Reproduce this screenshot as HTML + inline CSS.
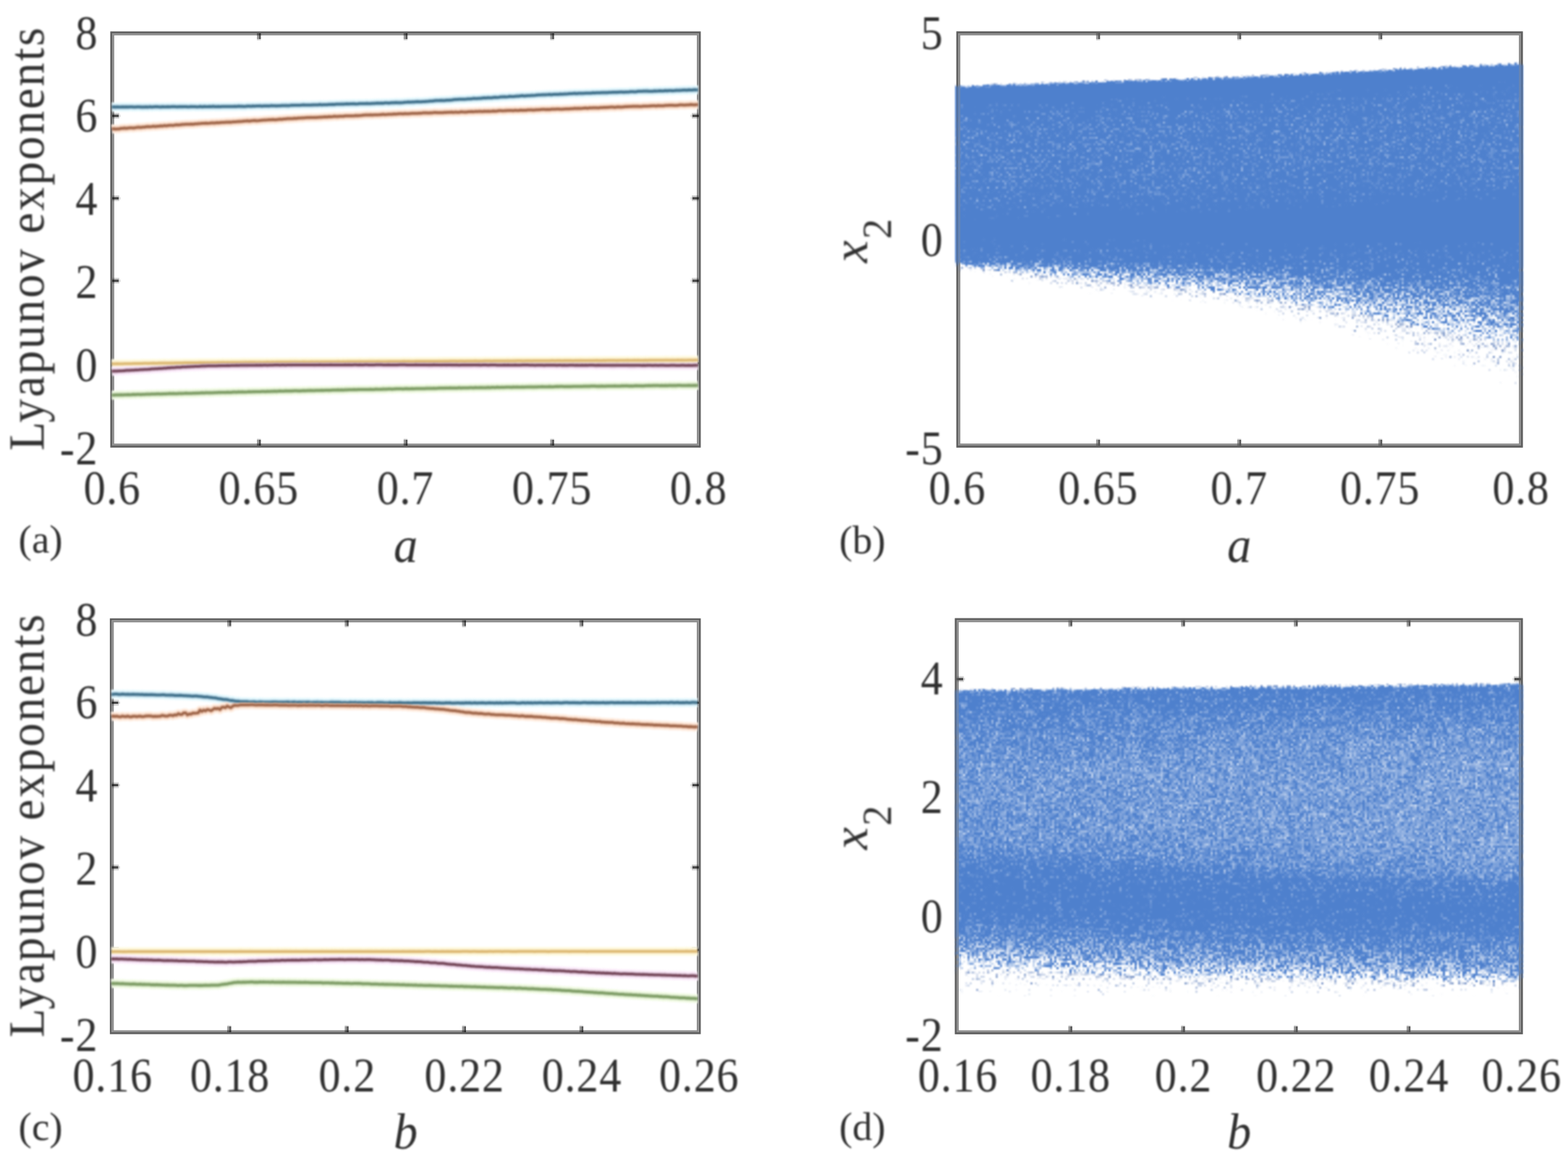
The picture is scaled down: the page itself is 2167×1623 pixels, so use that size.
<!DOCTYPE html>
<html lang="en"><head><meta charset="utf-8"><title>Lyapunov exponents and bifurcation diagrams</title>
<style>html,body{margin:0;padding:0;background:#fff}svg{display:block}text{font-family:"Liberation Serif","DejaVu Serif",serif;fill:#303030}</style>
</head><body>
<svg width="2167" height="1623" viewBox="0 0 2167 1623">
<defs>
<filter id="dith" filterUnits="userSpaceOnUse" x="1310" y="60" width="807" height="522" color-interpolation-filters="sRGB">
<feTurbulence type="fractalNoise" baseFrequency="0.7131 0.5519" numOctaves="3" seed="11" result="t"/>
<feFlood x="1311" y="61" width="1" height="1" flood-color="#000" result="dot"/>
<feOffset in="dot" dx="0" dy="0" x="1310" y="60" width="3" height="3" result="cell"/>
<feTile in="cell" result="grid"/>
<feComposite in="t" in2="grid" operator="in" result="s"/>
<feMorphology in="s" operator="dilate" radius="1" result="p"/>
<feComposite in="SourceGraphic" in2="p" operator="arithmetic" k1="0" k2="4.4" k3="4.0" k4="-3.800" result="a"/>
<feColorMatrix in="a" type="matrix" values="0 0 0 0 0.306  0 0 0 0 0.502  0 0 0 0 0.804  0 0 0 1 0"/>
</filter>
<filter id="diths" filterUnits="userSpaceOnUse" x="1310" y="60" width="807" height="522" color-interpolation-filters="sRGB">
<feTurbulence type="fractalNoise" baseFrequency="0.7131 0.5519" numOctaves="3" seed="11" result="t"/>
<feFlood x="1311" y="61" width="1" height="1" flood-color="#000" result="dot"/>
<feOffset in="dot" dx="0" dy="0" x="1310" y="60" width="3" height="3" result="cell"/>
<feTile in="cell" result="grid"/>
<feComposite in="t" in2="grid" operator="in" result="s"/>
<feMorphology in="s" operator="dilate" radius="1" result="p"/>
<feComposite in="SourceGraphic" in2="p" operator="arithmetic" k1="0" k2="1.8" k3="1.35" k4="-0.775" result="a"/>
<feComponentTransfer in="SourceGraphic" result="m"><feFuncA type="linear" slope="255"/></feComponentTransfer>
<feComposite in="a" in2="m" operator="in" result="a"/>
<feColorMatrix in="a" type="matrix" values="0 0 0 0 0.306  0 0 0 0 0.502  0 0 0 0 0.804  0 0 0 1 0"/>
</filter>
<filter id="ditht" filterUnits="userSpaceOnUse" x="1310" y="60" width="807" height="522" color-interpolation-filters="sRGB">
<feTurbulence type="fractalNoise" baseFrequency="0.7131 0.5519" numOctaves="3" seed="11" result="t"/>
<feFlood x="1311" y="61" width="1" height="1" flood-color="#000" result="dot"/>
<feOffset in="dot" dx="0" dy="0" x="1310" y="60" width="3" height="3" result="cell"/>
<feTile in="cell" result="grid"/>
<feComposite in="t" in2="grid" operator="in" result="s"/>
<feMorphology in="s" operator="dilate" radius="1" result="p"/>
<feComposite in="SourceGraphic" in2="p" operator="arithmetic" k1="0" k2="4.4" k3="4.0" k4="-3.800" result="a"/>
<feColorMatrix in="a" type="matrix" values="0 0 0 0 0.36  0 0 0 0 0.49  0 0 0 0 0.73  0 0 0 0.74 0"/>
</filter>
<filter id="dith2" filterUnits="userSpaceOnUse" x="1310" y="920" width="807" height="501" color-interpolation-filters="sRGB">
<feTurbulence type="fractalNoise" baseFrequency="0.7131 0.5519" numOctaves="3" seed="23" result="t"/>
<feFlood x="1311" y="921" width="1" height="1" flood-color="#000" result="dot"/>
<feOffset in="dot" dx="0" dy="0" x="1310" y="920" width="3" height="3" result="cell"/>
<feTile in="cell" result="grid"/>
<feComposite in="t" in2="grid" operator="in" result="s"/>
<feMorphology in="s" operator="dilate" radius="1" result="p"/>
<feComposite in="SourceGraphic" in2="p" operator="arithmetic" k1="0" k2="4.4" k3="4.0" k4="-3.800" result="a"/>
<feColorMatrix in="a" type="matrix" values="0 0 0 0 0.306  0 0 0 0 0.502  0 0 0 0 0.804  0 0 0 1 0"/>
</filter>
<filter id="dith2s" filterUnits="userSpaceOnUse" x="1310" y="920" width="807" height="501" color-interpolation-filters="sRGB">
<feTurbulence type="fractalNoise" baseFrequency="0.7131 0.5519" numOctaves="3" seed="23" result="t"/>
<feFlood x="1311" y="921" width="1" height="1" flood-color="#000" result="dot"/>
<feOffset in="dot" dx="0" dy="0" x="1310" y="920" width="3" height="3" result="cell"/>
<feTile in="cell" result="grid"/>
<feComposite in="t" in2="grid" operator="in" result="s"/>
<feMorphology in="s" operator="dilate" radius="1" result="p"/>
<feComposite in="SourceGraphic" in2="p" operator="arithmetic" k1="0" k2="1.8" k3="1.35" k4="-0.775" result="a"/>
<feComponentTransfer in="SourceGraphic" result="m"><feFuncA type="linear" slope="255"/></feComponentTransfer>
<feComposite in="a" in2="m" operator="in" result="a"/>
<feColorMatrix in="a" type="matrix" values="0 0 0 0 0.306  0 0 0 0 0.502  0 0 0 0 0.804  0 0 0 1 0"/>
</filter>
<filter id="dith2t" filterUnits="userSpaceOnUse" x="1310" y="920" width="807" height="501" color-interpolation-filters="sRGB">
<feTurbulence type="fractalNoise" baseFrequency="0.7131 0.5519" numOctaves="3" seed="23" result="t"/>
<feFlood x="1311" y="921" width="1" height="1" flood-color="#000" result="dot"/>
<feOffset in="dot" dx="0" dy="0" x="1310" y="920" width="3" height="3" result="cell"/>
<feTile in="cell" result="grid"/>
<feComposite in="t" in2="grid" operator="in" result="s"/>
<feMorphology in="s" operator="dilate" radius="1" result="p"/>
<feComposite in="SourceGraphic" in2="p" operator="arithmetic" k1="0" k2="4.4" k3="4.0" k4="-3.800" result="a"/>
<feColorMatrix in="a" type="matrix" values="0 0 0 0 0.36  0 0 0 0 0.49  0 0 0 0 0.73  0 0 0 0.74 0"/>
</filter>
<filter id="tsoft" filterUnits="userSpaceOnUse" x="0" y="0" width="2167" height="1623" color-interpolation-filters="sRGB"><feGaussianBlur stdDeviation="1.05"/></filter>
<filter id="sblur" filterUnits="userSpaceOnUse" x="1305" y="40" width="815" height="1400" color-interpolation-filters="sRGB"><feGaussianBlur stdDeviation="0.8"/></filter>
<filter id="lsoft" filterUnits="userSpaceOnUse" x="140" y="100" width="840" height="1300" color-interpolation-filters="sRGB"><feGaussianBlur stdDeviation="0.9"/></filter>
</defs>
<rect width="2167" height="1623" fill="#fff"/>
<g>
<g fill="none" stroke-width="2.75"><rect x="153.8" y="44.8" width="813.3" height="572.6" stroke="#5f5f5f"/><rect x="156.5" y="47.5" width="807.9" height="567.1" stroke="#8e8e8e"/></g>
<g fill="#000"><path d="M355.1 46.1h2.7v8h-2.7zM355.1 608h2.7v8h-2.7zM557.8 46.1h2.7v8h-2.7zM557.8 608h2.7v8h-2.7zM760.4 46.1h2.7v8h-2.7zM760.4 608h2.7v8h-2.7z" fill-opacity=".4"/><path d="M357.8 46.1h2.7v8h-2.7zM357.8 608h2.7v8h-2.7zM560.5 46.1h2.7v8h-2.7zM560.5 608h2.7v8h-2.7zM763.1 46.1h2.7v8h-2.7zM763.1 608h2.7v8h-2.7zM155.2 158.5h8.8v3.2h-8.8zM957 158.5h8.8v3.2h-8.8zM155.2 272.5h8.8v3.2h-8.8zM957 272.5h8.8v3.2h-8.8zM155.2 386.5h8.8v3.2h-8.8zM957 386.5h8.8v3.2h-8.8zM155.2 500.4h8.8v3.2h-8.8zM957 500.4h8.8v3.2h-8.8z" fill-opacity=".66"/><path d="M355.1 54.1h5.4v1.6h-5.4zM355.1 606.4h5.4v1.6h-5.4zM557.8 54.1h5.4v1.6h-5.4zM557.8 606.4h5.4v1.6h-5.4zM760.4 54.1h5.4v1.6h-5.4zM760.4 606.4h5.4v1.6h-5.4zM155.2 156.1h9.6v8h-9.6zM164 158.5h2.4v3.2h-2.4zM956.1 156.1h9.6v8h-9.6zM954.5 158.5h2.4v3.2h-2.4zM155.2 270.1h9.6v8h-9.6zM164 272.5h2.4v3.2h-2.4zM956.1 270.1h9.6v8h-9.6zM954.5 272.5h2.4v3.2h-2.4zM155.2 384.1h9.6v8h-9.6zM164 386.5h2.4v3.2h-2.4zM956.1 384.1h9.6v8h-9.6zM954.5 386.5h2.4v3.2h-2.4zM155.2 498h9.6v8h-9.6zM164 500.4h2.4v3.2h-2.4zM956.1 498h9.6v8h-9.6zM954.5 500.4h2.4v3.2h-2.4z" fill-opacity=".18"/></g>
<g fill="none" stroke-linejoin="round" filter="url(#lsoft)">
<defs>
<path id="lablue" d="M154.6 147.9L157.1 147.8L159.6 148.1L162.1 147.8L164.6 148.0L167.1 147.9L169.6 147.7L172.1 147.9L174.6 147.7L177.1 147.9L179.6 147.7L182.1 147.7L184.6 147.9L187.1 148.0L189.6 147.7L192.1 147.7L194.6 147.9L197.1 148.1L199.6 147.9L202.1 147.8L204.6 148.1L207.1 147.6L209.6 148.0L212.1 147.7L214.6 147.6L217.1 147.6L219.6 147.7L222.1 147.9L224.6 147.6L227.1 147.8L229.6 147.8L232.1 147.6L234.6 147.7L237.1 147.5L239.6 147.4L242.1 147.5L244.6 147.7L247.1 147.6L249.6 147.5L252.1 147.6L254.6 147.5L257.1 147.5L259.6 147.7L262.1 147.6L264.6 147.4L267.1 147.5L269.6 147.5L272.1 147.7L274.6 147.6L277.1 147.3L279.6 147.7L282.1 147.2L284.6 147.4L287.1 147.5L289.6 147.2L292.1 147.4L294.6 147.1L297.1 147.4L299.6 147.4L302.1 147.3L304.6 147.5L307.1 147.2L309.6 147.3L312.1 147.3L314.6 147.2L317.1 147.2L319.6 147.3L322.1 147.3L324.6 147.1L327.1 147.2L329.6 146.8L332.1 147.1L334.6 147.1L337.1 147.2L339.6 147.1L342.1 146.8L344.6 146.8L347.1 146.9L349.6 146.6L352.1 146.7L354.6 146.5L357.1 146.5L359.6 146.4L362.1 146.7L364.6 146.4L367.1 146.4L369.6 146.4L372.1 146.6L374.6 146.1L377.1 146.3L379.6 146.3L382.1 146.4L384.6 146.3L387.1 146.3L389.6 145.9L392.1 146.0L394.6 145.9L397.1 146.1L399.6 146.1L402.1 145.6L404.6 145.6L407.1 145.5L409.6 145.5L412.1 145.5L414.6 145.5L417.1 145.3L419.6 145.1L422.1 145.3L424.6 145.2L427.1 145.2L429.6 145.3L432.1 145.1L434.6 145.0L437.1 145.0L439.6 145.0L442.1 144.6L444.6 144.9L447.1 144.8L449.6 144.8L452.1 144.7L454.6 144.4L457.1 144.4L459.6 144.2L462.1 144.4L464.6 144.0L467.1 144.0L469.6 144.0L472.1 143.9L474.6 143.9L477.1 143.7L479.6 143.6L482.1 143.7L484.6 143.6L487.1 143.6L489.6 143.4L492.1 143.8L494.6 143.6L497.1 143.3L499.6 143.3L502.1 143.3L504.6 143.2L507.1 143.0L509.6 143.3L512 143.3L514.5 143.0L517 142.9L519.5 142.7L522 142.6L524.5 142.7L527 142.5L529.5 142.7L532 142.3L534.5 142.2L537 142.6L539.5 142.3L542 142.0L544.5 142.1L547 141.8L549.5 141.9L552 142.1L554.5 141.9L557 141.7L559.5 141.4L562 141.3L564.5 141.1L567 141.3L569.5 141.1L572 141.1L574.5 140.8L577 140.6L579.5 140.8L582 140.7L584.5 140.5L587 140.4L589.5 140.2L592 140.1L594.5 139.7L597 139.7L599.5 139.4L602 139.1L604.5 139.0L607 139.0L609.5 138.8L612 138.9L614.5 138.9L617 138.5L619.5 138.6L622 138.4L624.5 138.3L627 137.8L629.5 137.6L632 137.5L634.5 137.3L637 137.2L639.5 137.2L642 137.2L644.5 137.0L647 136.7L649.5 136.7L652 136.6L654.5 136.1L657 136.2L659.5 136.2L662 136.0L664.5 135.9L667 135.6L669.5 135.3L672 135.5L674.5 135.1L677 135.2L679.5 135.2L682 134.7L684.5 134.6L687 134.7L689.5 134.5L692 134.1L694.5 133.9L697 133.8L699.5 134.0L702 133.8L704.5 133.3L707 133.5L709.5 133.5L712 133.2L714.5 132.9L717 132.9L719.5 132.5L722 132.3L724.5 132.7L727 132.4L729.5 132.2L732 132.3L734.5 131.9L737 132.0L739.5 131.8L742 131.4L744.5 131.3L747 131.2L749.5 131.1L752 131.1L754.5 130.9L757 130.8L759.5 130.6L762 130.9L764.5 130.5L767 130.4L769.5 130.4L772 130.4L774.5 130.1L777 130.3L779.5 129.9L782 129.9L784.5 129.8L787 129.4L789.5 129.5L792 129.3L794.5 129.1L797 129.4L799.5 129.0L802 129.1L804.5 129.1L807 129.0L809.5 128.8L812 128.8L814.5 128.7L817 128.7L819.5 128.3L822 128.5L824.5 128.2L827 128.2L829.5 128.3L832 128.1L834.5 128.0L837 128.1L839.5 128.1L842 127.7L844.5 127.8L847 127.6L849.5 127.5L852 127.6L854.5 127.4L857 127.3L859.5 127.2L862 127.4L864.5 127.2L867 127.2L869.5 127.1L872 126.7L874.5 126.8L877 126.9L879.5 126.8L882 126.3L884.5 126.3L887 126.3L889.5 126.1L892 126.1L894.5 125.9L897 126.2L899.5 126.2L902 126.2L904.5 125.7L907 125.9L909.5 125.8L912 125.5L914.5 125.8L917 125.8L919.5 125.3L922 125.6L924.5 125.3L927 125.3L929.5 125.4L932 125.3L934.5 124.9L937 125.0L939.5 124.9L942 124.8L944.5 124.6L947 124.6L949.5 124.8L952 124.3L954.5 124.5L957 124.4L959.5 124.1L962 124.2L964.5 124.3"/>
<path id="laorange" d="M154.6 178.5L157.1 178.1L159.6 178.5L162.1 178.2L164.6 178.2L167.1 177.5L169.6 177.4L172.1 177.1L174.6 177.4L177.1 177.0L179.6 176.7L182.1 176.7L184.6 176.9L187.1 176.6L189.6 176.1L192.1 175.9L194.6 176.2L197.1 175.8L199.6 175.8L202.1 175.2L204.6 175.1L207.1 175.3L209.6 175.0L212.1 174.6L214.6 174.9L217.1 174.6L219.6 174.5L222.1 174.0L224.6 174.3L227.1 173.6L229.6 174.0L232.1 173.6L234.6 173.3L237.1 173.3L239.6 173.4L242.1 172.8L244.6 172.6L247.1 172.7L249.6 172.4L252.1 172.1L254.6 172.0L257.1 171.8L259.6 171.8L262.1 171.7L264.6 171.5L267.1 171.7L269.6 171.2L272.1 171.2L274.6 170.9L277.1 170.8L279.6 170.5L282.1 170.5L284.6 170.2L287.1 170.5L289.6 170.3L292.1 169.9L294.6 169.9L297.1 170.1L299.6 169.5L302.1 169.7L304.6 169.4L307.1 169.3L309.6 169.3L312.1 168.9L314.6 168.9L317.1 168.8L319.6 168.9L322.1 168.4L324.6 168.5L327.1 168.3L329.6 168.1L332.1 167.9L334.6 167.7L337.1 167.4L339.6 167.3L342.1 167.1L344.6 167.4L347.1 167.0L349.6 166.8L352.1 166.6L354.6 166.9L357.1 166.8L359.6 166.5L362.1 166.2L364.6 166.0L367.1 165.9L369.6 165.8L372.1 165.5L374.6 165.6L377.1 165.3L379.6 165.6L382.1 165.4L384.6 165.1L387.1 164.7L389.6 165.0L392.1 164.5L394.6 164.4L397.1 164.0L399.6 164.1L402.1 164.0L404.6 163.9L407.1 163.6L409.6 163.7L412.1 163.2L414.6 163.2L417.1 163.0L419.6 163.1L422.1 162.7L424.6 162.6L427.1 162.6L429.6 162.4L432.1 162.5L434.6 162.4L437.1 162.4L439.6 162.2L442.1 162.1L444.6 162.1L447.1 161.7L449.6 161.5L452.1 161.8L454.6 161.2L457.1 161.4L459.6 161.2L462.1 160.8L464.6 161.1L467.1 161.1L469.6 160.8L472.1 160.8L474.6 160.7L477.1 160.2L479.6 160.3L482.1 160.2L484.6 160.3L487.1 160.2L489.6 160.1L492.1 159.8L494.6 159.9L497.1 159.7L499.6 159.6L502.1 159.2L504.6 159.0L507.1 158.9L509.6 159.0L512 158.7L514.5 159.1L517 158.8L519.5 158.8L522 158.7L524.5 158.6L527 158.4L529.5 158.0L532 158.4L534.5 158.3L537 158.0L539.5 158.0L542 157.9L544.5 157.5L547 157.8L549.5 157.4L552 157.2L554.5 157.3L557 157.4L559.5 157.0L562 157.3L564.5 157.3L567 157.0L569.5 156.8L572 156.8L574.5 156.8L577 156.8L579.5 156.6L582 156.6L584.5 156.1L587 156.1L589.5 156.1L592 156.3L594.5 156.0L597 156.1L599.5 155.6L602 155.6L604.5 155.7L607 155.8L609.5 155.8L612 155.7L614.5 155.4L617 155.4L619.5 155.3L622 155.3L624.5 155.0L627 155.4L629.5 154.9L632 155.3L634.5 155.2L637 154.6L639.5 154.8L642 154.9L644.5 154.9L647 154.5L649.5 154.4L652 154.3L654.5 154.6L657 154.1L659.5 154.3L662 153.9L664.5 154.1L667 154.3L669.5 153.7L672 154.0L674.5 153.8L677 153.9L679.5 153.7L682 153.4L684.5 153.7L687 153.4L689.5 153.0L692 153.0L694.5 153.2L697 153.1L699.5 152.9L702 152.8L704.5 152.8L707 152.7L709.5 153.0L712 152.4L714.5 152.8L717 152.7L719.5 152.2L722 152.6L724.5 152.4L727 152.5L729.5 152.0L732 152.0L734.5 151.9L737 152.2L739.5 151.9L742 151.7L744.5 151.7L747 151.5L749.5 151.3L752 151.2L754.5 151.6L757 151.2L759.5 151.5L762 151.0L764.5 150.9L767 151.0L769.5 150.7L772 150.7L774.5 151.0L777 150.9L779.5 150.7L782 150.5L784.5 150.6L787 150.6L789.5 150.2L792 150.3L794.5 149.8L797 150.1L799.5 149.8L802 149.9L804.5 149.8L807 149.5L809.5 149.2L812 149.7L814.5 149.1L817 149.2L819.5 149.1L822 149.0L824.5 149.1L827 149.2L829.5 148.7L832 148.8L834.5 148.5L837 148.6L839.5 148.4L842 148.2L844.5 148.1L847 148.1L849.5 148.4L852 148.1L854.5 147.8L857 148.1L859.5 148.1L862 147.7L864.5 147.4L867 147.4L869.5 147.2L872 147.3L874.5 147.1L877 147.1L879.5 147.0L882 147.1L884.5 147.2L887 147.1L889.5 146.8L892 146.7L894.5 146.7L897 146.6L899.5 146.4L902 146.2L904.5 146.3L907 146.6L909.5 146.0L912 146.2L914.5 146.2L917 146.2L919.5 145.8L922 145.7L924.5 145.6L927 145.6L929.5 145.6L932 145.8L934.5 145.7L937 145.6L939.5 145.0L942 145.0L944.5 145.3L947 145.3L949.5 145.0L952 145.0L954.5 144.6L957 144.7L959.5 145.0L962 144.8L964.5 144.8"/>
<path id="layellow" d="M154.6 503.1L157.1 502.9L159.6 502.9L162.1 502.8L164.6 502.9L167.1 502.9L169.6 502.9L172.1 502.8L174.6 502.8L177.1 502.8L179.6 502.7L182.1 502.7L184.6 502.5L187.1 502.6L189.6 502.5L192.1 502.6L194.6 502.5L197.1 502.4L199.6 502.3L202.1 502.3L204.6 502.4L207.1 502.3L209.6 502.2L212.1 502.1L214.6 502.2L217.1 502.2L219.6 502.1L222.1 502.0L224.6 502.1L227.1 501.9L229.6 502.0L232.1 502.0L234.6 502.0L237.1 501.9L239.6 501.9L242.1 501.8L244.6 501.7L247.1 501.7L249.6 501.8L252.1 501.7L254.6 501.6L257.1 501.5L259.6 501.6L262.1 501.6L264.6 501.5L267.1 501.5L269.6 501.5L272.1 501.6L274.6 501.4L277.1 501.3L279.6 501.4L282.1 501.3L284.6 501.4L287.1 501.3L289.6 501.4L292.1 501.3L294.6 501.2L297.1 501.2L299.6 501.3L302.1 501.1L304.6 501.2L307.1 501.1L309.6 501.1L312.1 501.2L314.6 501.0L317.1 501.2L319.6 501.0L322.1 501.0L324.6 501.0L327.1 501.0L329.6 501.0L332.1 501.0L334.6 500.9L337.1 500.9L339.6 500.8L342.1 501.0L344.6 500.8L347.1 500.8L349.6 500.7L352.1 500.8L354.6 500.9L357.1 500.9L359.6 500.8L362.1 500.9L364.6 500.8L367.1 500.7L369.6 500.6L372.1 500.8L374.6 500.7L377.1 500.6L379.6 500.7L382.1 500.6L384.6 500.6L387.1 500.6L389.6 500.5L392.1 500.5L394.6 500.5L397.1 500.5L399.6 500.6L402.1 500.4L404.6 500.6L407.1 500.4L409.6 500.4L412.1 500.5L414.6 500.5L417.1 500.4L419.6 500.3L422.1 500.4L424.6 500.4L427.1 500.5L429.6 500.3L432.1 500.3L434.6 500.4L437.1 500.2L439.6 500.3L442.1 500.4L444.6 500.3L447.1 500.2L449.6 500.2L452.1 500.2L454.6 500.3L457.1 500.2L459.6 500.3L462.1 500.3L464.6 500.2L467.1 500.1L469.6 500.3L472.1 500.2L474.6 500.1L477.1 500.2L479.6 500.1L482.1 500.1L484.6 500.0L487.1 500.1L489.6 500.1L492.1 500.1L494.6 500.1L497.1 499.9L499.6 500.0L502.1 500.0L504.6 500.1L507.1 500.1L509.6 499.9L512 499.9L514.5 499.9L517 499.9L519.5 500.0L522 499.8L524.5 499.9L527 499.9L529.5 499.9L532 499.9L534.5 499.9L537 499.8L539.5 499.8L542 499.8L544.5 499.8L547 499.7L549.5 499.7L552 499.8L554.5 499.7L557 499.6L559.5 499.6L562 499.7L564.5 499.6L567 499.8L569.5 499.7L572 499.7L574.5 499.6L577 499.5L579.5 499.5L582 499.6L584.5 499.6L587 499.5L589.5 499.5L592 499.5L594.5 499.5L597 499.5L599.5 499.5L602 499.5L604.5 499.5L607 499.4L609.5 499.5L612 499.4L614.5 499.4L617 499.4L619.5 499.4L622 499.3L624.5 499.3L627 499.3L629.5 499.3L632 499.4L634.5 499.3L637 499.3L639.5 499.3L642 499.4L644.5 499.3L647 499.2L649.5 499.3L652 499.3L654.5 499.3L657 499.1L659.5 499.2L662 499.2L664.5 499.2L667 499.2L669.5 499.0L672 499.1L674.5 499.0L677 499.0L679.5 499.2L682 499.1L684.5 499.1L687 499.0L689.5 499.1L692 499.0L694.5 499.0L697 499.1L699.5 499.1L702 498.9L704.5 499.0L707 499.0L709.5 498.9L712 498.9L714.5 498.8L717 498.8L719.5 498.8L722 498.9L724.5 498.9L727 498.8L729.5 498.7L732 498.8L734.5 498.9L737 498.7L739.5 498.8L742 498.7L744.5 498.8L747 498.8L749.5 498.7L752 498.7L754.5 498.7L757 498.7L759.5 498.7L762 498.6L764.5 498.6L767 498.7L769.5 498.6L772 498.6L774.5 498.6L777 498.7L779.5 498.6L782 498.6L784.5 498.6L787 498.6L789.5 498.6L792 498.7L794.5 498.5L797 498.5L799.5 498.6L802 498.4L804.5 498.4L807 498.6L809.5 498.5L812 498.5L814.5 498.4L817 498.5L819.5 498.4L822 498.4L824.5 498.3L827 498.4L829.5 498.4L832 498.5L834.5 498.3L837 498.4L839.5 498.3L842 498.3L844.5 498.3L847 498.3L849.5 498.3L852 498.4L854.5 498.2L857 498.3L859.5 498.3L862 498.3L864.5 498.2L867 498.1L869.5 498.3L872 498.3L874.5 498.2L877 498.1L879.5 498.3L882 498.1L884.5 498.2L887 498.2L889.5 498.2L892 498.0L894.5 498.2L897 498.0L899.5 498.1L902 498.1L904.5 498.1L907 498.0L909.5 498.0L912 498.0L914.5 498.0L917 498.0L919.5 497.9L922 497.9L924.5 498.0L927 498.0L929.5 497.9L932 498.0L934.5 498.0L937 497.8L939.5 498.0L942 497.8L944.5 497.9L947 497.9L949.5 497.9L952 497.8L954.5 497.8L957 497.9L959.5 497.8L962 497.8L964.5 497.8"/>
<path id="lapurple" d="M154.6 513.3L157.1 513.0L159.6 513.1L162.1 512.9L164.6 512.7L167.1 512.7L169.6 512.6L172.1 512.4L174.6 512.1L177.1 512.1L179.6 511.9L182.1 511.7L184.6 511.7L187.1 511.4L189.6 511.4L192.1 511.3L194.6 511.0L197.1 511.0L199.6 510.7L202.1 510.7L204.6 510.6L207.1 510.4L209.6 510.0L212.1 510.0L214.6 509.8L217.1 509.8L219.6 509.4L222.1 509.4L224.6 509.3L227.1 509.0L229.6 508.9L232.1 508.5L234.6 508.6L237.1 508.3L239.6 508.2L242.1 508.1L244.6 507.7L247.1 507.7L249.6 507.7L252.1 507.3L254.6 507.2L257.1 507.2L259.6 506.9L262.1 507.0L264.6 506.7L267.1 506.8L269.6 506.5L272.1 506.5L274.6 506.5L277.1 506.2L279.6 506.1L282.1 506.1L284.6 505.9L287.1 505.8L289.6 505.8L292.1 505.7L294.6 505.8L297.1 505.7L299.6 505.7L302.1 505.5L304.6 505.6L307.1 505.4L309.6 505.4L312.1 505.4L314.6 505.3L317.1 505.4L319.6 505.3L322.1 505.3L324.6 505.3L327.1 505.0L329.6 505.3L332.1 505.1L334.6 505.0L337.1 505.1L339.6 504.9L342.1 505.1L344.6 505.0L347.1 504.9L349.6 505.0L352.1 504.9L354.6 504.8L357.1 504.9L359.6 504.7L362.1 504.9L364.6 504.7L367.1 504.8L369.6 504.9L372.1 504.8L374.6 504.8L377.1 504.7L379.6 504.6L382.1 504.5L384.6 504.6L387.1 504.7L389.6 504.6L392.1 504.6L394.6 504.7L397.1 504.5L399.6 504.5L402.1 504.6L404.6 504.4L407.1 504.4L409.6 504.5L412.1 504.4L414.6 504.5L417.1 504.4L419.6 504.5L422.1 504.5L424.6 504.4L427.1 504.5L429.6 504.5L432.1 504.4L434.6 504.6L437.1 504.4L439.6 504.4L442.1 504.3L444.6 504.5L447.1 504.6L449.6 504.5L452.1 504.4L454.6 504.4L457.1 504.3L459.6 504.5L462.1 504.4L464.6 504.4L467.1 504.5L469.6 504.4L472.1 504.5L474.6 504.5L477.1 504.3L479.6 504.5L482.1 504.3L484.6 504.4L487.1 504.4L489.6 504.3L492.1 504.3L494.6 504.5L497.1 504.2L499.6 504.4L502.1 504.5L504.6 504.3L507.1 504.3L509.6 504.4L512 504.4L514.5 504.4L517 504.5L519.5 504.3L522 504.3L524.5 504.3L527 504.3L529.5 504.5L532 504.5L534.5 504.5L537 504.2L539.5 504.5L542 504.5L544.5 504.4L547 504.5L549.5 504.4L552 504.3L554.5 504.3L557 504.3L559.5 504.3L562 504.4L564.5 504.5L567 504.5L569.5 504.5L572 504.5L574.5 504.3L577 504.4L579.5 504.4L582 504.5L584.5 504.4L587 504.4L589.5 504.5L592 504.6L594.5 504.4L597 504.6L599.5 504.3L602 504.4L604.5 504.4L607 504.5L609.5 504.6L612 504.5L614.5 504.4L617 504.6L619.5 504.4L622 504.4L624.5 504.6L627 504.5L629.5 504.6L632 504.6L634.5 504.7L637 504.5L639.5 504.6L642 504.6L644.5 504.6L647 504.5L649.5 504.6L652 504.6L654.5 504.5L657 504.5L659.5 504.6L662 504.4L664.5 504.7L667 504.5L669.5 504.4L672 504.5L674.5 504.7L677 504.6L679.5 504.5L682 504.5L684.5 504.5L687 504.7L689.5 504.7L692 504.7L694.5 504.7L697 504.5L699.5 504.7L702 504.6L704.5 504.8L707 504.8L709.5 504.8L712 504.6L714.5 504.8L717 504.8L719.5 504.8L722 504.6L724.5 504.6L727 504.6L729.5 504.6L732 504.8L734.5 504.8L737 504.8L739.5 504.9L742 504.8L744.5 504.7L747 504.7L749.5 504.7L752 504.9L754.5 504.7L757 504.7L759.5 504.8L762 504.7L764.5 504.7L767 504.7L769.5 504.9L772 504.8L774.5 504.8L777 505.0L779.5 504.8L782 504.9L784.5 504.9L787 504.7L789.5 504.8L792 504.8L794.5 504.9L797 504.8L799.5 504.9L802 504.9L804.5 504.8L807 505.0L809.5 504.8L812 505.0L814.5 504.8L817 504.8L819.5 504.8L822 505.0L824.5 505.1L827 504.8L829.5 504.9L832 504.9L834.5 505.0L837 504.9L839.5 505.0L842 504.9L844.5 505.1L847 504.9L849.5 505.1L852 504.9L854.5 504.9L857 505.0L859.5 505.0L862 504.9L864.5 505.0L867 504.9L869.5 505.1L872 505.1L874.5 505.1L877 505.1L879.5 505.0L882 505.0L884.5 505.0L887 505.2L889.5 504.9L892 505.2L894.5 504.9L897 505.0L899.5 505.0L902 505.2L904.5 505.1L907 505.0L909.5 505.2L912 505.0L914.5 505.1L917 505.1L919.5 505.2L922 505.2L924.5 505.2L927 505.1L929.5 505.1L932 505.0L934.5 505.2L937 505.2L939.5 505.2L942 505.1L944.5 505.1L947 505.2L949.5 505.2L952 505.1L954.5 505.2L957 505.3L959.5 505.1L962 505.1L964.5 505.1"/>
<path id="lagreen" d="M154.6 546.3L157.1 546.3L159.6 546.0L162.1 545.9L164.6 545.9L167.1 545.8L169.6 545.9L172.1 545.7L174.6 545.7L177.1 545.5L179.6 545.8L182.1 545.6L184.6 545.3L187.1 545.6L189.6 545.2L192.1 545.3L194.6 545.4L197.1 545.3L199.6 545.2L202.1 545.0L204.6 544.9L207.1 545.0L209.6 544.7L212.1 544.7L214.6 544.7L217.1 544.5L219.6 544.6L222.1 544.7L224.6 544.6L227.1 544.5L229.6 544.4L232.1 544.3L234.6 544.1L237.1 544.3L239.6 544.1L242.1 544.2L244.6 544.2L247.1 543.9L249.6 543.9L252.1 543.9L254.6 543.8L257.1 543.6L259.6 543.8L262.1 543.8L264.6 543.7L267.1 543.6L269.6 543.6L272.1 543.4L274.6 543.4L277.1 543.2L279.6 543.1L282.1 543.2L284.6 542.9L287.1 543.0L289.6 543.1L292.1 543.0L294.6 542.9L297.1 542.7L299.6 542.7L302.1 542.6L304.6 542.6L307.1 542.5L309.6 542.5L312.1 542.6L314.6 542.2L317.1 542.4L319.6 542.4L322.1 542.1L324.6 542.1L327.1 542.3L329.6 541.8L332.1 542.0L334.6 541.8L337.1 542.0L339.6 542.0L342.1 541.8L344.6 541.5L347.1 541.7L349.6 541.6L352.1 541.6L354.6 541.5L357.1 541.5L359.6 541.5L362.1 541.3L364.6 541.2L367.1 541.4L369.6 541.0L372.1 541.2L374.6 541.0L377.1 541.1L379.6 540.8L382.1 541.1L384.6 540.8L387.1 540.6L389.6 540.7L392.1 540.7L394.6 540.4L397.1 540.6L399.6 540.5L402.1 540.6L404.6 540.4L407.1 540.3L409.6 540.2L412.1 540.4L414.6 540.4L417.1 540.2L419.6 540.0L422.1 540.2L424.6 540.0L427.1 539.9L429.6 539.8L432.1 540.0L434.6 539.9L437.1 539.8L439.6 539.7L442.1 539.7L444.6 539.5L447.1 539.8L449.6 539.5L452.1 539.5L454.6 539.6L457.1 539.5L459.6 539.3L462.1 539.2L464.6 539.3L467.1 539.0L469.6 539.3L472.1 539.0L474.6 539.2L477.1 538.9L479.6 538.9L482.1 538.8L484.6 538.8L487.1 538.7L489.6 538.6L492.1 538.8L494.6 538.6L497.1 538.5L499.6 538.5L502.1 538.5L504.6 538.5L507.1 538.5L509.6 538.5L512 538.3L514.5 538.5L517 538.4L519.5 538.0L522 538.3L524.5 538.3L527 538.2L529.5 537.9L532 538.1L534.5 538.0L537 537.7L539.5 537.7L542 538.0L544.5 537.8L547 537.6L549.5 537.5L552 537.5L554.5 537.5L557 537.7L559.5 537.4L562 537.3L564.5 537.6L567 537.5L569.5 537.2L572 537.5L574.5 537.3L577 537.3L579.5 537.2L582 537.3L584.5 537.2L587 537.2L589.5 536.9L592 537.0L594.5 536.9L597 537.0L599.5 536.8L602 537.0L604.5 536.8L607 536.6L609.5 536.6L612 536.5L614.5 536.6L617 536.4L619.5 536.5L622 536.3L624.5 536.4L627 536.4L629.5 536.4L632 536.5L634.5 536.1L637 536.4L639.5 536.2L642 536.2L644.5 536.2L647 536.2L649.5 536.0L652 536.0L654.5 536.2L657 535.8L659.5 536.0L662 535.9L664.5 535.7L667 535.9L669.5 535.9L672 535.9L674.5 535.6L677 535.9L679.5 535.6L682 535.6L684.5 535.7L687 535.3L689.5 535.6L692 535.5L694.5 535.4L697 535.5L699.5 535.3L702 535.3L704.5 535.3L707 535.4L709.5 535.1L712 535.2L714.5 535.1L717 535.2L719.5 535.2L722 535.0L724.5 535.2L727 535.0L729.5 535.0L732 534.9L734.5 534.9L737 535.1L739.5 534.9L742 534.9L744.5 534.7L747 534.7L749.5 534.6L752 534.7L754.5 534.7L757 534.7L759.5 534.4L762 534.7L764.5 534.7L767 534.5L769.5 534.3L772 534.4L774.5 534.2L777 534.3L779.5 534.5L782 534.4L784.5 534.4L787 534.4L789.5 534.4L792 534.3L794.5 534.3L797 534.2L799.5 534.2L802 534.2L804.5 534.2L807 534.0L809.5 534.1L812 534.0L814.5 534.1L817 533.8L819.5 533.8L822 533.8L824.5 534.0L827 534.1L829.5 533.9L832 533.8L834.5 534.0L837 533.9L839.5 533.8L842 533.7L844.5 533.7L847 533.7L849.5 533.6L852 533.7L854.5 533.7L857 533.8L859.5 533.4L862 533.6L864.5 533.4L867 533.4L869.5 533.7L872 533.5L874.5 533.7L877 533.4L879.5 533.2L882 533.4L884.5 533.4L887 533.6L889.5 533.6L892 533.3L894.5 533.3L897 533.1L899.5 533.3L902 533.1L904.5 533.1L907 533.0L909.5 533.0L912 533.2L914.5 533.0L917 533.3L919.5 532.9L922 533.2L924.5 532.9L927 532.9L929.5 533.1L932 532.9L934.5 533.1L937 532.8L939.5 532.8L942 533.0L944.5 533.0L947 533.0L949.5 532.9L952 532.7L954.5 532.9L957 532.9L959.5 532.7L962 532.9L964.5 532.6"/>
</defs>
<use href="#lablue" stroke="#e6f9fe" stroke-width="12.6"/>
<use href="#laorange" stroke="#ffede0" stroke-width="12.6"/>
<use href="#layellow" stroke="#fffbe3" stroke-width="12.6"/>
<use href="#lapurple" stroke="#fcecfb" stroke-width="12.6"/>
<use href="#lagreen" stroke="#f2fbe5" stroke-width="12.6"/>
<use href="#lablue" stroke="#9dbfd2" stroke-width="6.6"/>
<use href="#lablue" stroke="#3a6b85" stroke-width="3.0"/>
<use href="#laorange" stroke="#dfb39b" stroke-width="6.6"/>
<use href="#laorange" stroke="#9a6246" stroke-width="3.0"/>
<use href="#layellow" stroke="#f4e2b6" stroke-width="6.6"/>
<use href="#layellow" stroke="#dbb670" stroke-width="3.0"/>
<use href="#lapurple" stroke="#c9adc0" stroke-width="6.6"/>
<use href="#lapurple" stroke="#6d3e50" stroke-width="3.0"/>
<use href="#lagreen" stroke="#bdd1ab" stroke-width="6.6"/>
<use href="#lagreen" stroke="#7a9961" stroke-width="3.0"/>
</g>
<g fill="none" stroke-width="2.75"><rect x="153.2" y="856.2" width="813.9" height="572.1" stroke="#5f5f5f"/><rect x="155.9" y="859" width="808.4" height="566.7" stroke="#8e8e8e"/></g>
<g fill="#000"><path d="M314.1 857.6h2.7v8h-2.7zM314.1 1419h2.7v8h-2.7zM476.4 857.6h2.7v8h-2.7zM476.4 1419h2.7v8h-2.7zM638.6 857.6h2.7v8h-2.7zM638.6 1419h2.7v8h-2.7zM800.8 857.6h2.7v8h-2.7zM800.8 1419h2.7v8h-2.7z" fill-opacity=".4"/><path d="M316.8 857.6h2.7v8h-2.7zM316.8 1419h2.7v8h-2.7zM479.1 857.6h2.7v8h-2.7zM479.1 1419h2.7v8h-2.7zM641.3 857.6h2.7v8h-2.7zM641.3 1419h2.7v8h-2.7zM803.5 857.6h2.7v8h-2.7zM803.5 1419h2.7v8h-2.7zM154.6 969.9h8.8v3.2h-8.8zM957 969.9h8.8v3.2h-8.8zM154.6 1083.8h8.8v3.2h-8.8zM957 1083.8h8.8v3.2h-8.8zM154.6 1197.6h8.8v3.2h-8.8zM957 1197.6h8.8v3.2h-8.8zM154.6 1311.5h8.8v3.2h-8.8zM957 1311.5h8.8v3.2h-8.8z" fill-opacity=".66"/><path d="M314.1 865.6h5.4v1.6h-5.4zM314.1 1417.4h5.4v1.6h-5.4zM476.4 865.6h5.4v1.6h-5.4zM476.4 1417.4h5.4v1.6h-5.4zM638.6 865.6h5.4v1.6h-5.4zM638.6 1417.4h5.4v1.6h-5.4zM800.8 865.6h5.4v1.6h-5.4zM800.8 1417.4h5.4v1.6h-5.4zM154.6 967.5h9.6v8h-9.6zM163.4 969.9h2.4v3.2h-2.4zM956.1 967.5h9.6v8h-9.6zM954.5 969.9h2.4v3.2h-2.4zM154.6 1081.4h9.6v8h-9.6zM163.4 1083.8h2.4v3.2h-2.4zM956.1 1081.4h9.6v8h-9.6zM954.5 1083.8h2.4v3.2h-2.4zM154.6 1195.2h9.6v8h-9.6zM163.4 1197.6h2.4v3.2h-2.4zM956.1 1195.2h9.6v8h-9.6zM954.5 1197.6h2.4v3.2h-2.4zM154.6 1309.1h9.6v8h-9.6zM163.4 1311.5h2.4v3.2h-2.4zM956.1 1309.1h9.6v8h-9.6zM954.5 1311.5h2.4v3.2h-2.4z" fill-opacity=".18"/></g>
<g fill="none" stroke-linejoin="round" filter="url(#lsoft)">
<defs>
<path id="lcblue" d="M154 959.9L156.5 959.8L159 959.5L161.5 959.5L164 959.9L166.5 960.0L169 959.6L171.5 959.8L174 960.0L176.5 959.8L179 960.1L181.5 960.0L184 959.8L186.5 960.0L189 960.1L191.5 960.1L194 960.2L196.5 960.0L199 960.4L201.5 960.2L204 960.4L206.5 960.4L209 960.3L211.5 960.4L214 960.6L216.5 960.8L219 960.7L221.5 960.7L224 960.6L226.5 960.5L229 961.0L231.5 961.0L234 961.1L236.5 960.9L239 961.1L241.5 961.4L244 961.4L246.5 961.4L249 961.3L251.5 961.5L254 961.8L256.5 961.7L259 961.9L261.5 962.0L264 962.3L266.5 962.4L269 962.3L271.5 962.3L274 962.6L276.5 962.8L279 963.1L281.5 963.4L284 963.6L286.5 963.4L289 964.1L291.5 964.3L294 964.6L296.5 964.8L299 965.1L301.5 965.7L304 966.1L306.5 966.5L309 967.0L311.5 967.1L314 967.3L316.5 967.9L319 968.4L321.5 968.4L324 969.1L326.5 969.5L329 969.4L331.5 969.8L334 970.0L336.5 970.0L339 970.0L341.5 970.1L344 970.4L346.5 970.5L349 970.4L351.5 970.3L354 970.7L356.5 970.7L359 970.4L361.5 970.6L364 970.8L366.5 970.8L369 970.7L371.5 970.7L374 970.7L376.5 970.5L379 970.6L381.5 970.6L384 970.8L386.5 970.7L389 970.8L391.5 970.7L394 970.8L396.5 970.6L399 970.6L401.5 971.1L404 970.8L406.5 970.6L409 970.9L411.5 971.0L414 970.7L416.5 971.0L419 970.9L421.5 971.0L424 970.7L426.5 970.7L429 971.2L431.5 971.2L434 971.0L436.5 971.1L439 970.9L441.5 971.2L444 971.0L446.5 971.3L449 971.2L451.5 971.3L454 971.4L456.5 971.0L459 970.9L461.5 971.0L464 971.0L466.5 971.0L469 971.0L471.5 971.3L474 971.4L476.5 971.2L479 971.5L481.5 971.5L484 971.1L486.5 971.3L489 971.3L491.5 971.1L494 971.6L496.5 971.2L499 971.4L501.5 971.4L504 971.6L506.5 971.5L509 971.3L511.5 971.4L514 971.2L516.5 971.7L519 971.7L521.5 971.3L524 971.2L526.5 971.3L529 971.4L531.5 971.7L534 971.7L536.5 971.7L539 971.3L541.5 971.7L544 971.6L546.5 971.6L549 971.8L551.5 971.3L554 971.4L556.5 971.7L559 971.8L561.5 971.7L564 971.5L566.5 971.7L569 971.8L571.5 971.4L574 971.6L576.5 971.5L579 971.5L581.5 971.7L584 971.5L586.5 971.6L589 971.5L591.5 971.8L594 971.5L596.5 971.8L599 971.6L601.5 971.5L604 972.0L606.5 971.6L609 972.0L611.5 971.9L614 972.0L616.5 971.6L619 971.7L621.5 971.6L624 972.0L626.5 972.0L629 971.9L631.5 971.8L634 971.7L636.5 972.0L639 971.8L641.5 971.9L644 971.6L646.5 971.7L649 971.6L651.5 971.9L654 971.8L656.5 971.6L659 972.0L661.5 971.7L664 971.8L666.5 971.6L669 971.7L671.5 972.0L674 971.7L676.5 971.6L679 971.8L681.5 971.7L684 972.0L686.5 971.6L689 972.0L691.5 971.5L694 972.0L696.5 971.8L699 971.6L701.5 971.7L704 971.6L706.5 971.6L709 971.6L711.5 971.6L714 972.0L716.5 972.0L719 971.9L721.5 971.5L724 971.6L726.5 971.9L729 971.4L731.5 971.8L734 971.6L736.5 971.9L739 971.4L741.5 971.8L744 971.6L746.5 971.4L749 971.4L751.5 971.8L754 971.6L756.5 971.4L759 971.6L761.5 971.8L764 971.4L766.5 971.6L769 971.4L771.5 971.4L774 971.7L776.5 971.7L779 971.4L781.5 971.3L784 971.3L786.5 971.6L789 971.5L791.5 971.4L794 971.4L796.5 971.6L799 971.6L801.5 971.7L804 971.5L806.5 971.3L809 971.3L811.5 971.6L814 971.4L816.5 971.6L819 971.2L821.5 971.6L824 971.4L826.5 971.6L829 971.6L831.5 971.5L834 971.2L836.5 971.7L839 971.4L841.5 971.6L844 971.3L846.5 971.3L849 971.6L851.5 971.4L854 971.3L856.5 971.4L859 971.5L861.5 971.2L864 971.4L866.5 971.4L869 971.4L871.5 971.2L874 971.5L876.5 971.6L879 971.6L881.5 971.3L884 971.5L886.5 971.3L889 971.5L891.5 971.2L894 971.6L896.5 971.6L899 971.4L901.5 971.4L904 971.4L906.5 971.4L909 971.1L911.5 971.6L914 971.2L916.5 971.2L919 971.2L921.5 971.2L924 971.5L926.5 971.1L929 971.1L931.5 971.4L934 971.2L936.5 971.1L939 971.4L941.5 971.4L944 971.3L946.5 971.4L949 971.1L951.5 971.5L954 971.4L956.5 971.1L959 971.1L961.5 971.3L964 971.3"/>
<path id="lcorange" d="M154 990.4L156.5 990.1L159 990.5L161.5 990.1L164 990.7L166.5 991.1L169 990.0L171.5 990.6L174 990.8L176.5 990.0L179 990.9L181.5 991.0L184 990.2L186.5 990.2L189 990.8L191.5 990.3L194 990.1L196.5 990.8L199 990.5L201.5 989.9L204 989.7L206.5 989.8L209 989.9L211.5 990.6L214 990.3L216.5 990.4L219 990.2L221.5 990.2L224 989.0L226.5 989.5L229 990.0L231.5 989.9L234 988.8L236.5 988.7L239 989.4L241.5 988.2L244 988.6L246.5 986.6L249 987.7L251.5 987.7L254 985.5L256.5 985.5L259 988.3L261.5 987.1L264 987.3L266.5 985.8L269 986.0L271.5 985.8L274 985.4L276.5 981.7L279 983.6L281.5 981.7L284 982.8L286.5 980.9L289 981.5L291.5 982.6L294 981.1L296.5 979.3L299 980.0L301.5 979.3L304 980.9L306.5 978.0L309 977.6L311.5 978.5L314 976.0L316.5 977.4L319 978.4L321.5 976.3L324 975.0L326.5 975.3L329 975.2L331.5 974.6L334 974.4L336.5 974.4L339 974.4L341.5 974.5L344 974.4L346.5 974.3L349 974.2L351.5 974.5L354 974.7L356.5 974.6L359 974.6L361.5 974.6L364 974.4L366.5 974.7L369 974.6L371.5 974.7L374 974.8L376.5 974.7L379 974.6L381.5 974.6L384 974.7L386.5 974.9L389 974.8L391.5 975.0L394 974.7L396.5 974.9L399 975.2L401.5 974.9L404 975.1L406.5 975.0L409 974.9L411.5 975.4L414 975.0L416.5 975.3L419 974.9L421.5 974.9L424 975.3L426.5 975.1L429 974.9L431.5 975.1L434 975.1L436.5 975.3L439 975.0L441.5 975.0L444 975.5L446.5 975.4L449 975.0L451.5 975.1L454 975.2L456.5 975.4L459 975.3L461.5 975.5L464 975.5L466.5 975.3L469 975.5L471.5 975.5L474 975.5L476.5 975.4L479 975.6L481.5 975.5L484 975.7L486.5 975.2L489 975.7L491.5 975.2L494 975.7L496.5 975.6L499 975.6L501.5 975.9L504 975.7L506.5 975.6L509 975.9L511.5 975.9L514 975.8L516.5 975.7L519 975.8L521.5 975.8L524 976.0L526.5 975.8L529 975.9L531.5 976.0L534 975.9L536.5 976.0L539 976.3L541.5 976.4L544 976.2L546.5 976.3L549 976.2L551.5 976.3L554 976.3L556.5 976.7L559 976.8L561.5 976.6L564 977.2L566.5 977.0L569 977.5L571.5 977.6L574 977.8L576.5 977.6L579 977.9L581.5 978.3L584 978.0L586.5 978.2L589 978.7L591.5 978.9L594 979.3L596.5 979.4L599 979.5L601.5 980.0L604 980.0L606.5 980.2L609 980.5L611.5 980.6L614 980.8L616.5 981.2L619 981.4L621.5 982.0L624 982.2L626.5 982.4L629 982.5L631.5 983.0L634 983.3L636.5 983.7L639 984.0L641.5 984.5L644 984.9L646.5 984.9L649 985.1L651.5 985.5L654 985.9L656.5 985.8L659 986.1L661.5 986.4L664 986.2L666.5 986.5L669 987.1L671.5 987.2L674 987.1L676.5 987.1L679 987.7L681.5 987.7L684 988.0L686.5 988.2L689 988.3L691.5 988.2L694 988.2L696.5 988.4L699 988.7L701.5 988.8L704 988.8L706.5 988.9L709 989.3L711.5 989.4L714 989.4L716.5 989.9L719 989.9L721.5 989.6L724 990.0L726.5 990.4L729 990.2L731.5 990.6L734 990.3L736.5 990.7L739 991.1L741.5 991.1L744 991.3L746.5 991.2L749 991.6L751.5 991.8L754 991.8L756.5 992.2L759 992.3L761.5 992.7L764 992.7L766.5 992.8L769 992.8L771.5 993.0L774 993.5L776.5 993.3L779 993.5L781.5 993.8L784 994.2L786.5 994.6L789 994.6L791.5 995.0L794 994.7L796.5 994.9L799 995.5L801.5 995.5L804 995.9L806.5 995.9L809 996.0L811.5 996.3L814 996.4L816.5 997.0L819 997.0L821.5 997.1L824 997.4L826.5 997.5L829 997.5L831.5 998.2L834 998.2L836.5 998.6L839 998.5L841.5 998.7L844 998.7L846.5 998.7L849 999.4L851.5 999.5L854 999.4L856.5 999.9L859 1000.0L861.5 999.8L864 1000.2L866.5 1000.5L869 1000.4L871.5 1000.8L874 1000.5L876.5 1000.7L879 1001.1L881.5 1000.9L884 1001.1L886.5 1001.6L889 1001.5L891.5 1001.8L894 1001.6L896.5 1001.7L899 1001.9L901.5 1001.9L904 1002.5L906.5 1002.2L909 1002.5L911.5 1002.4L914 1002.7L916.5 1002.8L919 1002.9L921.5 1002.8L924 1003.0L926.5 1003.5L929 1003.4L931.5 1003.4L934 1003.5L936.5 1003.7L939 1003.8L941.5 1003.8L944 1004.3L946.5 1004.2L949 1004.2L951.5 1004.7L954 1004.4L956.5 1004.7L959 1005.1L961.5 1004.8L964 1005.2"/>
<path id="lcyellow" d="M154 1315.7L156.5 1315.6L159 1315.5L161.5 1315.6L164 1315.6L166.5 1315.6L169 1315.7L171.5 1315.5L174 1315.7L176.5 1315.6L179 1315.5L181.5 1315.6L184 1315.5L186.5 1315.6L189 1315.5L191.5 1315.6L194 1315.6L196.5 1315.6L199 1315.5L201.5 1315.6L204 1315.5L206.5 1315.6L209 1315.5L211.5 1315.6L214 1315.6L216.5 1315.5L219 1315.6L221.5 1315.5L224 1315.6L226.5 1315.6L229 1315.5L231.5 1315.5L234 1315.5L236.5 1315.5L239 1315.6L241.5 1315.5L244 1315.6L246.5 1315.5L249 1315.6L251.5 1315.5L254 1315.6L256.5 1315.5L259 1315.5L261.5 1315.5L264 1315.5L266.5 1315.5L269 1315.6L271.5 1315.5L274 1315.5L276.5 1315.6L279 1315.6L281.5 1315.6L284 1315.6L286.5 1315.5L289 1315.5L291.5 1315.5L294 1315.6L296.5 1315.6L299 1315.5L301.5 1315.5L304 1315.6L306.5 1315.6L309 1315.5L311.5 1315.6L314 1315.5L316.5 1315.5L319 1315.5L321.5 1315.5L324 1315.6L326.5 1315.6L329 1315.5L331.5 1315.4L334 1315.4L336.5 1315.5L339 1315.5L341.5 1315.5L344 1315.5L346.5 1315.4L349 1315.5L351.5 1315.5L354 1315.5L356.5 1315.6L359 1315.5L361.5 1315.5L364 1315.5L366.5 1315.5L369 1315.5L371.5 1315.5L374 1315.4L376.5 1315.5L379 1315.5L381.5 1315.5L384 1315.4L386.5 1315.5L389 1315.5L391.5 1315.4L394 1315.4L396.5 1315.4L399 1315.5L401.5 1315.4L404 1315.5L406.5 1315.5L409 1315.4L411.5 1315.5L414 1315.5L416.5 1315.5L419 1315.5L421.5 1315.4L424 1315.4L426.5 1315.5L429 1315.5L431.5 1315.5L434 1315.5L436.5 1315.5L439 1315.5L441.5 1315.5L444 1315.4L446.5 1315.4L449 1315.5L451.5 1315.4L454 1315.5L456.5 1315.5L459 1315.4L461.5 1315.5L464 1315.4L466.5 1315.5L469 1315.5L471.5 1315.4L474 1315.4L476.5 1315.5L479 1315.5L481.5 1315.4L484 1315.4L486.5 1315.4L489 1315.4L491.5 1315.4L494 1315.4L496.5 1315.4L499 1315.4L501.5 1315.5L504 1315.5L506.5 1315.4L509 1315.4L511.5 1315.4L514 1315.4L516.5 1315.5L519 1315.4L521.5 1315.4L524 1315.5L526.5 1315.4L529 1315.4L531.5 1315.4L534 1315.5L536.5 1315.4L539 1315.5L541.5 1315.4L544 1315.4L546.5 1315.4L549 1315.4L551.5 1315.4L554 1315.5L556.5 1315.3L559 1315.4L561.5 1315.4L564 1315.4L566.5 1315.3L569 1315.4L571.5 1315.3L574 1315.4L576.5 1315.4L579 1315.3L581.5 1315.4L584 1315.4L586.5 1315.4L589 1315.3L591.5 1315.3L594 1315.3L596.5 1315.5L599 1315.4L601.5 1315.3L604 1315.4L606.5 1315.5L609 1315.4L611.5 1315.3L614 1315.4L616.5 1315.4L619 1315.3L621.5 1315.4L624 1315.3L626.5 1315.4L629 1315.4L631.5 1315.4L634 1315.4L636.5 1315.4L639 1315.3L641.5 1315.3L644 1315.3L646.5 1315.3L649 1315.4L651.5 1315.4L654 1315.3L656.5 1315.3L659 1315.4L661.5 1315.4L664 1315.4L666.5 1315.3L669 1315.4L671.5 1315.4L674 1315.4L676.5 1315.3L679 1315.3L681.5 1315.4L684 1315.3L686.5 1315.3L689 1315.3L691.5 1315.3L694 1315.4L696.5 1315.3L699 1315.3L701.5 1315.3L704 1315.3L706.5 1315.4L709 1315.4L711.5 1315.4L714 1315.4L716.5 1315.3L719 1315.3L721.5 1315.3L724 1315.3L726.5 1315.3L729 1315.2L731.5 1315.3L734 1315.3L736.5 1315.3L739 1315.4L741.5 1315.2L744 1315.2L746.5 1315.3L749 1315.3L751.5 1315.3L754 1315.2L756.5 1315.4L759 1315.4L761.5 1315.3L764 1315.3L766.5 1315.3L769 1315.3L771.5 1315.3L774 1315.3L776.5 1315.3L779 1315.3L781.5 1315.3L784 1315.3L786.5 1315.4L789 1315.2L791.5 1315.3L794 1315.3L796.5 1315.3L799 1315.3L801.5 1315.2L804 1315.2L806.5 1315.3L809 1315.3L811.5 1315.4L814 1315.3L816.5 1315.3L819 1315.3L821.5 1315.3L824 1315.3L826.5 1315.3L829 1315.2L831.5 1315.3L834 1315.3L836.5 1315.2L839 1315.3L841.5 1315.3L844 1315.3L846.5 1315.3L849 1315.2L851.5 1315.2L854 1315.3L856.5 1315.2L859 1315.2L861.5 1315.3L864 1315.2L866.5 1315.2L869 1315.3L871.5 1315.2L874 1315.3L876.5 1315.2L879 1315.2L881.5 1315.3L884 1315.2L886.5 1315.2L889 1315.2L891.5 1315.3L894 1315.2L896.5 1315.2L899 1315.3L901.5 1315.2L904 1315.2L906.5 1315.2L909 1315.2L911.5 1315.2L914 1315.2L916.5 1315.2L919 1315.2L921.5 1315.2L924 1315.2L926.5 1315.2L929 1315.2L931.5 1315.2L934 1315.1L936.5 1315.2L939 1315.3L941.5 1315.2L944 1315.2L946.5 1315.3L949 1315.1L951.5 1315.3L954 1315.2L956.5 1315.1L959 1315.3L961.5 1315.2L964 1315.1"/>
<path id="lcpurple" d="M154 1325.7L156.5 1325.6L159 1325.7L161.5 1325.6L164 1325.9L166.5 1325.7L169 1325.8L171.5 1326.0L174 1325.9L176.5 1326.2L179 1326.1L181.5 1326.2L184 1326.5L186.5 1326.4L189 1326.7L191.5 1326.7L194 1326.9L196.5 1326.8L199 1327.0L201.5 1327.1L204 1326.9L206.5 1327.2L209 1327.1L211.5 1327.4L214 1327.4L216.5 1327.5L219 1327.3L221.5 1327.5L224 1327.7L226.5 1327.9L229 1327.9L231.5 1327.7L234 1328.0L236.5 1327.9L239 1328.1L241.5 1328.3L244 1328.1L246.5 1328.5L249 1328.5L251.5 1328.4L254 1328.4L256.5 1328.6L259 1328.8L261.5 1328.8L264 1328.7L266.5 1328.7L269 1328.8L271.5 1329.2L274 1329.0L276.5 1329.3L279 1329.2L281.5 1329.5L284 1329.4L286.5 1329.4L289 1329.8L291.5 1329.7L294 1329.8L296.5 1329.9L299 1330.0L301.5 1329.7L304 1329.9L306.5 1329.8L309 1330.0L311.5 1330.2L314 1330.1L316.5 1329.8L319 1329.8L321.5 1330.0L324 1329.9L326.5 1329.7L329 1329.7L331.5 1329.5L334 1329.7L336.5 1329.4L339 1329.5L341.5 1329.3L344 1329.0L346.5 1329.0L349 1328.9L351.5 1329.1L354 1328.9L356.5 1328.6L359 1328.6L361.5 1328.6L364 1328.6L366.5 1328.5L369 1328.4L371.5 1328.3L374 1328.0L376.5 1328.2L379 1328.0L381.5 1327.8L384 1327.9L386.5 1328.0L389 1327.6L391.5 1327.6L394 1327.7L396.5 1327.5L399 1327.4L401.5 1327.5L404 1327.3L406.5 1327.4L409 1327.3L411.5 1327.5L414 1327.4L416.5 1327.0L419 1327.2L421.5 1327.2L424 1327.2L426.5 1327.1L429 1327.0L431.5 1327.0L434 1326.8L436.5 1326.8L439 1326.9L441.5 1326.9L444 1326.9L446.5 1326.8L449 1326.6L451.5 1326.8L454 1326.7L456.5 1326.6L459 1326.6L461.5 1326.5L464 1326.6L466.5 1326.5L469 1326.3L471.5 1326.4L474 1326.4L476.5 1326.7L479 1326.5L481.5 1326.4L484 1326.4L486.5 1326.4L489 1326.5L491.5 1326.4L494 1326.4L496.5 1326.7L499 1326.6L501.5 1326.6L504 1326.7L506.5 1326.6L509 1326.6L511.5 1326.6L514 1326.8L516.5 1326.8L519 1327.1L521.5 1327.0L524 1327.3L526.5 1327.1L529 1327.4L531.5 1327.3L534 1327.2L536.5 1327.3L539 1327.6L541.5 1327.9L544 1327.7L546.5 1328.0L549 1327.9L551.5 1328.2L554 1328.0L556.5 1328.3L559 1328.6L561.5 1328.5L564 1328.6L566.5 1328.7L569 1328.9L571.5 1329.0L574 1329.4L576.5 1329.3L579 1329.5L581.5 1329.6L584 1329.9L586.5 1330.2L589 1330.3L591.5 1330.3L594 1330.7L596.5 1330.9L599 1331.0L601.5 1330.9L604 1331.4L606.5 1331.7L609 1331.7L611.5 1331.8L614 1332.0L616.5 1332.4L619 1332.8L621.5 1332.9L624 1333.3L626.5 1333.2L629 1333.5L631.5 1333.9L634 1334.1L636.5 1334.3L639 1334.6L641.5 1334.7L644 1334.8L646.5 1335.2L649 1335.2L651.5 1335.7L654 1335.7L656.5 1336.0L659 1336.2L661.5 1336.2L664 1336.4L666.5 1336.4L669 1336.9L671.5 1336.9L674 1337.3L676.5 1337.0L679 1337.4L681.5 1337.6L684 1337.6L686.5 1337.6L689 1337.8L691.5 1337.9L694 1338.3L696.5 1338.2L699 1338.6L701.5 1338.5L704 1338.7L706.5 1338.9L709 1339.0L711.5 1339.2L714 1339.3L716.5 1339.3L719 1339.6L721.5 1339.5L724 1339.8L726.5 1339.9L729 1340.1L731.5 1340.0L734 1340.3L736.5 1340.5L739 1340.4L741.5 1340.5L744 1340.7L746.5 1341.0L749 1340.8L751.5 1340.9L754 1341.2L756.5 1341.4L759 1341.6L761.5 1341.5L764 1341.9L766.5 1341.7L769 1342.1L771.5 1341.9L774 1342.0L776.5 1342.2L779 1342.3L781.5 1342.6L784 1342.8L786.5 1342.8L789 1343.2L791.5 1343.1L794 1343.1L796.5 1343.3L799 1343.6L801.5 1343.8L804 1343.6L806.5 1343.7L809 1344.1L811.5 1344.0L814 1344.5L816.5 1344.4L819 1344.6L821.5 1344.6L824 1344.9L826.5 1344.8L829 1344.9L831.5 1345.2L834 1345.0L836.5 1345.4L839 1345.2L841.5 1345.6L844 1345.6L846.5 1345.9L849 1345.6L851.5 1345.9L854 1346.0L856.5 1346.3L859 1346.4L861.5 1346.3L864 1346.3L866.5 1346.4L869 1346.5L871.5 1346.6L874 1346.6L876.5 1346.7L879 1347.0L881.5 1347.0L884 1347.0L886.5 1347.3L889 1347.1L891.5 1347.3L894 1347.2L896.5 1347.6L899 1347.6L901.5 1347.5L904 1347.7L906.5 1347.8L909 1347.7L911.5 1347.8L914 1347.9L916.5 1348.1L919 1347.9L921.5 1348.2L924 1348.2L926.5 1348.3L929 1348.4L931.5 1348.6L934 1348.4L936.5 1348.7L939 1348.6L941.5 1348.8L944 1348.9L946.5 1348.7L949 1349.0L951.5 1349.2L954 1349.0L956.5 1348.9L959 1349.0L961.5 1349.5L964 1349.1"/>
<path id="lcgreen" d="M154 1359.7L156.5 1359.4L159 1359.7L161.5 1359.6L164 1359.7L166.5 1360.0L169 1359.8L171.5 1360.0L174 1360.3L176.5 1360.3L179 1360.4L181.5 1360.6L184 1360.3L186.5 1360.4L189 1360.7L191.5 1360.8L194 1360.6L196.5 1360.9L199 1360.8L201.5 1361.0L204 1361.0L206.5 1361.0L209 1361.5L211.5 1361.3L214 1361.6L216.5 1361.3L219 1361.6L221.5 1361.5L224 1361.7L226.5 1361.7L229 1361.9L231.5 1361.8L234 1362.1L236.5 1362.1L239 1362.0L241.5 1362.1L244 1362.3L246.5 1362.5L249 1362.3L251.5 1362.3L254 1362.6L256.5 1362.6L259 1362.5L261.5 1362.3L264 1362.3L266.5 1362.3L269 1362.2L271.5 1362.2L274 1362.4L276.5 1362.3L279 1362.4L281.5 1362.2L284 1362.1L286.5 1362.3L289 1362.2L291.5 1362.1L294 1362.0L296.5 1362.0L299 1362.0L301.5 1361.9L304 1361.6L306.5 1361.1L309 1360.7L311.5 1360.4L314 1360.2L316.5 1359.6L319 1359.2L321.5 1358.7L324 1358.2L326.5 1358.3L329 1357.8L331.5 1358.0L334 1358.1L336.5 1357.7L339 1357.9L341.5 1357.7L344 1357.7L346.5 1357.6L349 1357.6L351.5 1357.9L354 1357.8L356.5 1357.9L359 1357.5L361.5 1357.8L364 1357.6L366.5 1357.8L369 1357.8L371.5 1357.7L374 1358.0L376.5 1357.6L379 1357.9L381.5 1358.0L384 1357.9L386.5 1357.9L389 1358.1L391.5 1357.8L394 1358.0L396.5 1358.1L399 1357.9L401.5 1358.1L404 1358.0L406.5 1358.1L409 1358.1L411.5 1358.2L414 1358.1L416.5 1358.2L419 1358.2L421.5 1358.1L424 1358.3L426.5 1358.2L429 1358.5L431.5 1358.4L434 1358.5L436.5 1358.5L439 1358.5L441.5 1358.5L444 1358.5L446.5 1358.9L449 1358.7L451.5 1358.8L454 1358.8L456.5 1359.0L459 1358.8L461.5 1358.9L464 1359.2L466.5 1359.1L469 1359.2L471.5 1359.3L474 1359.4L476.5 1359.5L479 1359.2L481.5 1359.4L484 1359.6L486.5 1359.7L489 1359.5L491.5 1359.5L494 1359.6L496.5 1359.6L499 1359.8L501.5 1360.1L504 1360.0L506.5 1360.0L509 1360.0L511.5 1360.2L514 1360.5L516.5 1360.4L519 1360.4L521.5 1360.5L524 1360.7L526.5 1360.7L529 1360.6L531.5 1360.9L534 1360.8L536.5 1360.9L539 1360.9L541.5 1361.0L544 1361.1L546.5 1361.2L549 1361.1L551.5 1361.2L554 1361.5L556.5 1361.3L559 1361.4L561.5 1361.7L564 1361.6L566.5 1361.7L569 1361.7L571.5 1362.0L574 1361.8L576.5 1362.1L579 1362.3L581.5 1362.1L584 1362.2L586.5 1362.4L589 1362.4L591.5 1362.4L594 1362.3L596.5 1362.6L599 1362.6L601.5 1362.8L604 1362.7L606.5 1362.8L609 1363.0L611.5 1363.1L614 1363.0L616.5 1363.1L619 1363.2L621.5 1363.4L624 1363.2L626.5 1363.6L629 1363.5L631.5 1363.5L634 1363.7L636.5 1363.6L639 1363.6L641.5 1363.9L644 1363.8L646.5 1364.0L649 1364.0L651.5 1364.3L654 1364.3L656.5 1364.1L659 1364.4L661.5 1364.4L664 1364.5L666.5 1364.7L669 1364.6L671.5 1364.7L674 1365.0L676.5 1364.9L679 1365.0L681.5 1365.1L684 1365.3L686.5 1365.3L689 1365.4L691.5 1365.3L694 1365.3L696.5 1365.6L699 1365.6L701.5 1365.8L704 1365.9L706.5 1365.7L709 1365.8L711.5 1365.9L714 1366.3L716.5 1366.1L719 1366.1L721.5 1366.5L724 1366.5L726.5 1366.4L729 1366.8L731.5 1366.9L734 1366.9L736.5 1366.8L739 1367.2L741.5 1367.2L744 1367.4L746.5 1367.6L749 1367.7L751.5 1367.8L754 1367.7L756.5 1367.9L759 1368.1L761.5 1368.0L764 1368.5L766.5 1368.4L769 1368.5L771.5 1368.7L774 1368.8L776.5 1369.2L779 1369.2L781.5 1369.4L784 1369.5L786.5 1369.5L789 1369.8L791.5 1370.2L794 1370.3L796.5 1370.5L799 1370.4L801.5 1370.6L804 1370.7L806.5 1371.1L809 1371.2L811.5 1371.4L814 1371.5L816.5 1371.8L819 1371.8L821.5 1372.2L824 1372.1L826.5 1372.6L829 1372.6L831.5 1372.6L834 1372.8L836.5 1373.1L839 1373.2L841.5 1373.4L844 1373.5L846.5 1373.6L849 1374.0L851.5 1373.9L854 1374.3L856.5 1374.5L859 1374.5L861.5 1374.6L864 1375.0L866.5 1374.9L869 1375.2L871.5 1375.1L874 1375.4L876.5 1375.6L879 1375.5L881.5 1376.0L884 1375.8L886.5 1376.2L889 1376.2L891.5 1376.6L894 1376.6L896.5 1376.8L899 1376.9L901.5 1377.1L904 1377.2L906.5 1377.2L909 1377.3L911.5 1377.7L914 1377.6L916.5 1378.1L919 1377.9L921.5 1378.0L924 1378.2L926.5 1378.6L929 1378.8L931.5 1378.7L934 1379.0L936.5 1379.0L939 1379.4L941.5 1379.4L944 1379.4L946.5 1379.5L949 1379.9L951.5 1379.8L954 1380.2L956.5 1380.2L959 1380.3L961.5 1380.6L964 1380.6"/>
</defs>
<use href="#lcblue" stroke="#e6f9fe" stroke-width="12.6"/>
<use href="#lcorange" stroke="#ffede0" stroke-width="12.6"/>
<use href="#lcyellow" stroke="#fffbe3" stroke-width="12.6"/>
<use href="#lcpurple" stroke="#fcecfb" stroke-width="12.6"/>
<use href="#lcgreen" stroke="#f2fbe5" stroke-width="12.6"/>
<use href="#lcblue" stroke="#9dbfd2" stroke-width="6.6"/>
<use href="#lcblue" stroke="#3a6b85" stroke-width="3.0"/>
<use href="#lcorange" stroke="#dfb39b" stroke-width="6.6"/>
<use href="#lcorange" stroke="#9a6246" stroke-width="3.0"/>
<use href="#lcyellow" stroke="#f4e2b6" stroke-width="6.6"/>
<use href="#lcyellow" stroke="#dbb670" stroke-width="3.0"/>
<use href="#lcpurple" stroke="#c9adc0" stroke-width="6.6"/>
<use href="#lcpurple" stroke="#6d3e50" stroke-width="3.0"/>
<use href="#lcgreen" stroke="#bdd1ab" stroke-width="6.6"/>
<use href="#lcgreen" stroke="#7a9961" stroke-width="3.0"/>
</g>
<g fill="none" stroke-width="2.75"><rect x="1323.1" y="44.8" width="780.1" height="572.6" stroke="#5f5f5f"/><rect x="1325.8" y="47.5" width="774.7" height="567.1" stroke="#8e8e8e"/></g>
<g fill="#000"><path d="M1514.9 46.1h2.7v8h-2.7zM1514.9 608h2.7v8h-2.7zM1709.9 46.1h2.7v8h-2.7zM1709.9 608h2.7v8h-2.7zM1904.9 46.1h2.7v8h-2.7zM1904.9 608h2.7v8h-2.7z" fill-opacity=".4"/><path d="M1517.6 46.1h2.7v8h-2.7zM1517.6 608h2.7v8h-2.7zM1712.6 46.1h2.7v8h-2.7zM1712.6 608h2.7v8h-2.7zM1907.6 46.1h2.7v8h-2.7zM1907.6 608h2.7v8h-2.7z" fill-opacity=".66"/><path d="M1514.9 54.1h5.4v1.6h-5.4zM1514.9 606.4h5.4v1.6h-5.4zM1709.9 54.1h5.4v1.6h-5.4zM1709.9 606.4h5.4v1.6h-5.4zM1904.9 54.1h5.4v1.6h-5.4zM1904.9 606.4h5.4v1.6h-5.4z" fill-opacity=".18"/></g>
<g shape-rendering="crispEdges" filter="url(#sblur)">
<g fill="#4e80cd">
<polygon points="1319.6,118.7 1500,112.9 1700,106.5 1797,101.8 1894,97.1 1991,92.4 2088,87.7 2104.6,86.9 2104.6,88.5 2088,89.3 1991,94 1894,98.7 1797,103.4 1700,108.1 1500,114.5 1319.6,120.3" fill-opacity="0.15"/><polygon points="1319.6,120.3 1500,114.5 1700,108.1 1797,103.4 1894,98.7 1991,94 2088,89.3 2104.6,88.5 2104.6,90.3 2088,91.1 1991,95.8 1894,100.5 1797,105.2 1700,109.9 1500,116.3 1319.6,122.1" fill-opacity="0.40"/><polygon points="1319.6,122.1 1500,116.3 1700,109.9 1797,105.2 1894,100.5 1991,95.8 2088,91.1 2104.6,90.3 2104.6,92.9 2088,93.7 1991,98.4 1894,103.1 1797,107.8 1700,112.5 1500,118.9 1319.6,124.7" fill-opacity="0.50"/><polygon points="1319.6,359 1500,357 1700,362 1797,364 1894,360 1991,358 2088,360 2104.6,360 2104.6,372.5 2088,372.5 1991,371.5 1894,370 1797,369 1700,366 1500,359.5 1319.6,360.2" fill-opacity="0.50"/><polygon points="1319.6,360.2 1500,359.5 1700,366 1797,369 1894,370 1991,371.5 2088,372.5 2104.6,372.5 2104.6,385 2088,385 1991,385 1894,380 1797,374 1700,370 1500,362 1319.6,361.5" fill-opacity="0.50"/><polygon points="1319.6,361.5 1500,362 1700,370 1797,374 1894,380 1991,385 2088,385 2104.6,385 2104.6,389.8 2088,389.7 1991,388.3 1894,382.7 1797,376 1700,371.5 1500,363 1319.6,361.8" fill-opacity="0.48"/><polygon points="1319.6,361.8 1500,363 1700,371.5 1797,376 1894,382.7 1991,388.3 2088,389.7 2104.6,389.8 2104.6,394.7 2088,394.3 1991,391.7 1894,385.3 1797,378 1700,373 1500,364 1319.6,362.1" fill-opacity="0.45"/><polygon points="1319.6,362.1 1500,364 1700,373 1797,378 1894,385.3 1991,391.7 2088,394.3 2104.6,394.7 2104.6,399.5 2088,399 1991,395 1894,388 1797,380 1700,374.5 1500,365 1319.6,362.4" fill-opacity="0.42"/><polygon points="1319.6,362.4 1500,365 1700,374.5 1797,380 1894,388 1991,395 2088,399 2104.6,399.5 2104.6,404.3 2088,403.7 1991,398.3 1894,390.7 1797,382 1700,376 1500,366 1319.6,362.6" fill-opacity="0.38"/><polygon points="1319.6,362.6 1500,366 1700,376 1797,382 1894,390.7 1991,398.3 2088,403.7 2104.6,404.3 2104.6,409.2 2088,408.3 1991,401.7 1894,393.3 1797,384 1700,377.5 1500,367 1319.6,362.9" fill-opacity="0.35"/><polygon points="1319.6,362.9 1500,367 1700,377.5 1797,384 1894,393.3 1991,401.7 2088,408.3 2104.6,409.2 2104.6,414 2088,413 1991,405 1894,396 1797,386 1700,379 1500,368 1319.6,363.2" fill-opacity="0.32"/><polygon points="1319.6,363.2 1500,368 1700,379 1797,386 1894,396 1991,405 2088,413 2104.6,414 2104.6,419.5 2088,418.3 1991,409.5 1894,399.7 1797,389.2 1700,381.5 1500,369.3 1319.6,363.5" fill-opacity="0.27"/><polygon points="1319.6,363.5 1500,369.3 1700,381.5 1797,389.2 1894,399.7 1991,409.5 2088,418.3 2104.6,419.5 2104.6,425 2088,423.7 1991,414 1894,403.3 1797,392.3 1700,384 1500,370.7 1319.6,363.8" fill-opacity="0.22"/><polygon points="1319.6,363.8 1500,370.7 1700,384 1797,392.3 1894,403.3 1991,414 2088,423.7 2104.6,425 2104.6,430.5 2088,429 1991,418.5 1894,407 1797,395.5 1700,386.5 1500,372 1319.6,364.1" fill-opacity="0.17"/><polygon points="1319.6,364.1 1500,372 1700,386.5 1797,395.5 1894,407 1991,418.5 2088,429 2104.6,430.5 2104.6,436 2088,434.3 1991,423 1894,410.7 1797,398.7 1700,389 1500,373.3 1319.6,364.4" fill-opacity="0.12"/><polygon points="1319.6,364.4 1500,373.3 1700,389 1797,398.7 1894,410.7 1991,423 2088,434.3 2104.6,436 2104.6,441.5 2088,439.7 1991,427.5 1894,414.3 1797,401.8 1700,391.5 1500,374.7 1319.6,364.7" fill-opacity="0.08"/><polygon points="1319.6,364.7 1500,374.7 1700,391.5 1797,401.8 1894,414.3 1991,427.5 2088,439.7 2104.6,441.5 2104.6,447 2088,445 1991,432 1894,418 1797,405 1700,394 1500,376 1319.6,365" fill-opacity="0.03"/>
</g>
<g fill="#000" filter="url(#diths)">
<polygon points="1319.6,124.7 1500,118.9 1700,112.5 1797,107.8 1894,103.1 1991,98.4 2088,93.7 2104.6,92.9 2104.6,111.9 2088,112.7 1991,117.4 1894,122.1 1797,126.8 1700,131.5 1500,137.9 1319.6,143.7" fill-opacity="1.000"/><polygon points="1319.6,143.7 1500,137.9 1700,131.5 1797,126.8 1894,122.1 1991,117.4 2088,112.7 2104.6,111.9 2104.6,122.4 2088,123.2 1991,127.9 1894,132.6 1797,137.3 1700,142 1500,148.4 1319.6,154.2" fill-opacity="0.739"/><polygon points="1319.6,154.2 1500,148.4 1700,142 1797,137.3 1894,132.6 1991,127.9 2088,123.2 2104.6,122.4 2104.6,132.9 2088,133.7 1991,138.4 1894,143.1 1797,147.8 1700,152.5 1500,158.9 1319.6,164.7" fill-opacity="0.688"/><polygon points="1319.6,164.7 1500,158.9 1700,152.5 1797,147.8 1894,143.1 1991,138.4 2088,133.7 2104.6,132.9 2104.6,150.4 2088,151.2 1991,155.9 1894,160.6 1797,165.3 1700,170 1500,176.4 1319.6,182.2" fill-opacity="0.663"/><polygon points="1319.6,182.2 1500,176.4 1700,170 1797,165.3 1894,160.6 1991,155.9 2088,151.2 2104.6,150.4 2104.6,167.9 2088,168.7 1991,173.4 1894,178.1 1797,182.8 1700,187.5 1500,193.9 1319.6,199.7" fill-opacity="0.645"/><polygon points="1319.6,199.7 1500,193.9 1700,187.5 1797,182.8 1894,178.1 1991,173.4 2088,168.7 2104.6,167.9 2104.6,212.9 2088,213.7 1991,218.4 1894,223.1 1797,227.8 1700,232.5 1500,238.9 1319.6,244.7" fill-opacity="0.638"/><polygon points="1319.6,244.7 1500,238.9 1700,232.5 1797,227.8 1894,223.1 1991,218.4 2088,213.7 2104.6,212.9 2104.6,230.4 2088,231.2 1991,235.9 1894,240.6 1797,245.3 1700,250 1500,256.4 1319.6,262.2" fill-opacity="0.645"/><polygon points="1319.6,262.2 1500,256.4 1700,250 1797,245.3 1894,240.6 1991,235.9 2088,231.2 2104.6,230.4 2104.6,247.9 2088,248.7 1991,253.4 1894,258.1 1797,262.8 1700,267.5 1500,273.9 1319.6,279.7" fill-opacity="0.663"/><polygon points="1319.6,279.7 1500,273.9 1700,267.5 1797,262.8 1894,258.1 1991,253.4 2088,248.7 2104.6,247.9 2104.6,260.4 2088,261.2 1991,265.9 1894,270.6 1797,275.3 1700,280 1500,286.4 1319.6,292.2" fill-opacity="0.688"/><polygon points="1319.6,292.2 1500,286.4 1700,280 1797,275.3 1894,270.6 1991,265.9 2088,261.2 2104.6,260.4 2104.6,272.9 2088,273.7 1991,278.4 1894,283.1 1797,287.8 1700,292.5 1500,298.9 1319.6,304.7" fill-opacity="0.739"/><polygon points="1319.6,304.7 1500,298.9 1700,292.5 1797,287.8 1894,283.1 1991,278.4 2088,273.7 2104.6,272.9 2104.6,336 2088,336 1991,334 1894,336 1797,338 1700,336 1500,330 1319.6,330" fill-opacity="1.000"/><polygon points="1319.6,330 1500,330 1700,336 1797,338 1894,336 1991,334 2088,336 2104.6,336 2104.6,348 2088,348 1991,346 1894,348 1797,351 1700,349 1500,343.5 1319.6,344.5" fill-opacity="0.739"/><polygon points="1319.6,344.5 1500,343.5 1700,349 1797,351 1894,348 1991,346 2088,348 2104.6,348 2104.6,360 2088,360 1991,358 1894,360 1797,364 1700,362 1500,357 1319.6,359" fill-opacity="0.688"/>
</g>
<g fill="#000" filter="url(#dith)">
<polygon points="1319.6,118.7 1500,112.9 1700,106.5 1797,101.8 1894,97.1 1991,92.4 2088,87.7 2104.6,86.9 2104.6,88.5 2088,89.3 1991,94 1894,98.7 1797,103.4 1700,108.1 1500,114.5 1319.6,120.3" fill-opacity="0.503"/><polygon points="1319.6,120.3 1500,114.5 1700,108.1 1797,103.4 1894,98.7 1991,94 2088,89.3 2104.6,88.5 2104.6,90.3 2088,91.1 1991,95.8 1894,100.5 1797,105.2 1700,109.9 1500,116.3 1319.6,122.1" fill-opacity="0.629"/><polygon points="1319.6,122.1 1500,116.3 1700,109.9 1797,105.2 1894,100.5 1991,95.8 2088,91.1 2104.6,90.3 2104.6,92.9 2088,93.7 1991,98.4 1894,103.1 1797,107.8 1700,112.5 1500,118.9 1319.6,124.7" fill-opacity="1.000"/><polygon points="1319.6,359 1500,357 1700,362 1797,364 1894,360 1991,358 2088,360 2104.6,360 2104.6,372.5 2088,372.5 1991,371.5 1894,370 1797,369 1700,366 1500,359.5 1319.6,360.2" fill-opacity="0.722"/><polygon points="1319.6,360.2 1500,359.5 1700,366 1797,369 1894,370 1991,371.5 2088,372.5 2104.6,372.5 2104.6,385 2088,385 1991,385 1894,380 1797,374 1700,370 1500,362 1319.6,361.5" fill-opacity="0.699"/><polygon points="1319.6,361.5 1500,362 1700,370 1797,374 1894,380 1991,385 2088,385 2104.6,385 2104.6,389.8 2088,389.7 1991,388.3 1894,382.7 1797,376 1700,371.5 1500,363 1319.6,361.8" fill-opacity="0.675"/><polygon points="1319.6,361.8 1500,363 1700,371.5 1797,376 1894,382.7 1991,388.3 2088,389.7 2104.6,389.8 2104.6,394.7 2088,394.3 1991,391.7 1894,385.3 1797,378 1700,373 1500,364 1319.6,362.1" fill-opacity="0.653"/><polygon points="1319.6,362.1 1500,364 1700,373 1797,378 1894,385.3 1991,391.7 2088,394.3 2104.6,394.7 2104.6,399.5 2088,399 1991,395 1894,388 1797,380 1700,374.5 1500,365 1319.6,362.4" fill-opacity="0.636"/><polygon points="1319.6,362.4 1500,365 1700,374.5 1797,380 1894,388 1991,395 2088,399 2104.6,399.5 2104.6,404.3 2088,403.7 1991,398.3 1894,390.7 1797,382 1700,376 1500,366 1319.6,362.6" fill-opacity="0.622"/><polygon points="1319.6,362.6 1500,366 1700,376 1797,382 1894,390.7 1991,398.3 2088,403.7 2104.6,404.3 2104.6,409.2 2088,408.3 1991,401.7 1894,393.3 1797,384 1700,377.5 1500,367 1319.6,362.9" fill-opacity="0.611"/><polygon points="1319.6,362.9 1500,367 1700,377.5 1797,384 1894,393.3 1991,401.7 2088,408.3 2104.6,409.2 2104.6,414 2088,413 1991,405 1894,396 1797,386 1700,379 1500,368 1319.6,363.2" fill-opacity="0.601"/><polygon points="1319.6,363.2 1500,368 1700,379 1797,386 1894,396 1991,405 2088,413 2104.6,414 2104.6,419.5 2088,418.3 1991,409.5 1894,399.7 1797,389.2 1700,381.5 1500,369.3 1319.6,363.5" fill-opacity="0.588"/><polygon points="1319.6,363.5 1500,369.3 1700,381.5 1797,389.2 1894,399.7 1991,409.5 2088,418.3 2104.6,419.5 2104.6,425 2088,423.7 1991,414 1894,403.3 1797,392.3 1700,384 1500,370.7 1319.6,363.8" fill-opacity="0.574"/><polygon points="1319.6,363.8 1500,370.7 1700,384 1797,392.3 1894,403.3 1991,414 2088,423.7 2104.6,425 2104.6,430.5 2088,429 1991,418.5 1894,407 1797,395.5 1700,386.5 1500,372 1319.6,364.1" fill-opacity="0.561"/><polygon points="1319.6,364.1 1500,372 1700,386.5 1797,395.5 1894,407 1991,418.5 2088,429 2104.6,430.5 2104.6,436 2088,434.3 1991,423 1894,410.7 1797,398.7 1700,389 1500,373.3 1319.6,364.4" fill-opacity="0.551"/><polygon points="1319.6,364.4 1500,373.3 1700,389 1797,398.7 1894,410.7 1991,423 2088,434.3 2104.6,436 2104.6,441.5 2088,439.7 1991,427.5 1894,414.3 1797,401.8 1700,391.5 1500,374.7 1319.6,364.7" fill-opacity="0.541"/><polygon points="1319.6,364.7 1500,374.7 1700,391.5 1797,401.8 1894,414.3 1991,427.5 2088,439.7 2104.6,441.5 2104.6,447 2088,445 1991,432 1894,418 1797,405 1700,394 1500,376 1319.6,365" fill-opacity="0.533"/><polygon points="1319.6,365 1500,376 1700,394 1797,405 1894,418 1991,432 2088,445 2104.6,447 2104.6,451.8 2088,449.6 1991,436 1894,420.8 1797,407.4 1700,395.8 1500,377.4 1319.6,365.4" fill-opacity="0.521"/><polygon points="1319.6,365.4 1500,377.4 1700,395.8 1797,407.4 1894,420.8 1991,436 2088,449.6 2104.6,451.8 2104.6,456.6 2088,454.2 1991,440 1894,423.6 1797,409.8 1700,397.6 1500,378.8 1319.6,365.8" fill-opacity="0.505"/><polygon points="1319.6,365.8 1500,378.8 1700,397.6 1797,409.8 1894,423.6 1991,440 2088,454.2 2104.6,456.6 2104.6,461.4 2088,458.8 1991,444 1894,426.4 1797,412.2 1700,399.4 1500,380.2 1319.6,366.2" fill-opacity="0.488"/><polygon points="1319.6,366.2 1500,380.2 1700,399.4 1797,412.2 1894,426.4 1991,444 2088,458.8 2104.6,461.4 2104.6,466.2 2088,463.4 1991,448 1894,429.2 1797,414.6 1700,401.2 1500,381.6 1319.6,366.6" fill-opacity="0.470"/><polygon points="1319.6,366.6 1500,381.6 1700,401.2 1797,414.6 1894,429.2 1991,448 2088,463.4 2104.6,466.2 2104.6,471 2088,468 1991,452 1894,432 1797,417 1700,403 1500,383 1319.6,367" fill-opacity="0.452"/><polygon points="1319.6,367 1500,383 1700,403 1797,417 1894,432 1991,452 2088,468 2104.6,471 2104.6,478 2088,475 1991,458 1894,436 1797,420.3 1700,405.3 1500,385.7 1319.6,367.8" fill-opacity="0.432"/>
</g>
<g fill="#000" filter="url(#ditht)">
<polygon points="1319.6,117.1 1500,111.3 1700,104.9 1797,100.2 1894,95.5 1991,90.8 2088,86.1 2104.6,85.3 2104.6,86.9 2088,87.7 1991,92.4 1894,97.1 1797,101.8 1700,106.5 1500,112.9 1319.6,118.7" fill-opacity="0.414"/><polygon points="1319.6,367.8 1500,385.7 1700,405.3 1797,420.3 1894,436 1991,458 2088,475 2104.6,478 2104.6,485 2088,482 1991,464 1894,440 1797,423.7 1700,407.7 1500,388.3 1319.6,368.7" fill-opacity="0.437"/><polygon points="1319.6,368.7 1500,388.3 1700,407.7 1797,423.7 1894,440 1991,464 2088,482 2104.6,485 2104.6,492 2088,489 1991,470 1894,444 1797,427 1700,410 1500,391 1319.6,369.5" fill-opacity="0.405"/><polygon points="1319.6,369.5 1500,391 1700,410 1797,427 1894,444 1991,470 2088,489 2104.6,492 2104.6,510 2088,507 1991,485 1894,454 1797,435 1700,416 1500,397 1319.6,372" fill-opacity="0.357"/><polygon points="1319.6,372 1500,397 1700,416 1797,435 1894,454 1991,485 2088,507 2104.6,510 2104.6,526 2088,522 1991,496 1894,462 1797,442 1700,422 1500,402 1319.6,374.5" fill-opacity="0.289"/><polygon points="1319.6,374.5 1500,402 1700,422 1797,442 1894,462 1991,496 2088,522 2104.6,526 2104.6,538 2088,534 1991,505 1894,469 1797,448 1700,427 1500,406 1319.6,376.5" fill-opacity="0.214"/>
</g>
</g>
<g fill="none" stroke-width="2.75" opacity="0.4"><rect x="1323.1" y="44.8" width="780.1" height="572.6" stroke="#5f5f5f"/><rect x="1325.8" y="47.5" width="774.7" height="567.1" stroke="#8e8e8e"/></g>
<g fill="none" stroke-width="2.75"><rect x="1321" y="856" width="782.2" height="572.4" stroke="#5f5f5f"/><rect x="1323.6" y="858.8" width="776.8" height="567" stroke="#8e8e8e"/></g>
<g fill="#000"><path d="M1476.5 857.4h2.7v8h-2.7zM1476.5 1419.1h2.7v8h-2.7zM1632.3 857.4h2.7v8h-2.7zM1632.3 1419.1h2.7v8h-2.7zM1788.1 857.4h2.7v8h-2.7zM1788.1 1419.1h2.7v8h-2.7zM1943.9 857.4h2.7v8h-2.7zM1943.9 1419.1h2.7v8h-2.7z" fill-opacity=".4"/><path d="M1479.2 857.4h2.7v8h-2.7zM1479.2 1419.1h2.7v8h-2.7zM1635 857.4h2.7v8h-2.7zM1635 1419.1h2.7v8h-2.7zM1790.8 857.4h2.7v8h-2.7zM1790.8 1419.1h2.7v8h-2.7zM1946.6 857.4h2.7v8h-2.7zM1946.6 1419.1h2.7v8h-2.7zM1322.3 937.2h8.8v3.2h-8.8zM2093 937.2h8.8v3.2h-8.8z" fill-opacity=".66"/><path d="M1476.5 865.4h5.4v1.6h-5.4zM1476.5 1417.5h5.4v1.6h-5.4zM1632.3 865.4h5.4v1.6h-5.4zM1632.3 1417.5h5.4v1.6h-5.4zM1788.1 865.4h5.4v1.6h-5.4zM1788.1 1417.5h5.4v1.6h-5.4zM1943.9 865.4h5.4v1.6h-5.4zM1943.9 1417.5h5.4v1.6h-5.4zM1322.3 934.8h9.6v8h-9.6zM1331.1 937.2h2.4v3.2h-2.4zM2092.2 934.8h9.6v8h-9.6zM2090.6 937.2h2.4v3.2h-2.4z" fill-opacity=".18"/></g>
<g shape-rendering="crispEdges" filter="url(#sblur)">
<g fill="#4e80cd">
<polygon points="1319.5,953.8 1410,952.8 1500,951.8 1600,950.7 1700,949.6 1800,948.5 1900,947.4 2000,946.3 2104.6,945.2 2104.6,947 2000,948.1 1900,949.2 1800,950.3 1700,951.4 1600,952.5 1500,953.6 1410,954.6 1319.5,955.6" fill-opacity="0.12"/><polygon points="1319.5,955.6 1410,954.6 1500,953.6 1600,952.5 1700,951.4 1800,950.3 1900,949.2 2000,948.1 2104.6,947 2104.6,949.2 2000,950.3 1900,951.4 1800,952.5 1700,953.6 1600,954.7 1500,955.8 1410,956.8 1319.5,957.8" fill-opacity="0.38"/><polygon points="1319.5,957.8 1410,956.8 1500,955.8 1600,954.7 1700,953.6 1800,952.5 1900,951.4 2000,950.3 2104.6,949.2 2104.6,952.1 2000,953.2 1900,954.3 1800,955.4 1700,956.5 1600,957.6 1500,958.7 1410,959.7 1319.5,960.7" fill-opacity="0.50"/><polygon points="1319.5,1291 1410,1293.4 1500,1296 1600,1299.7 1700,1303 1800,1304.9 1900,1306 2000,1306.6 2104.6,1307 2104.6,1313.8 2000,1312.5 1900,1311.7 1800,1309.8 1700,1307.8 1600,1305.3 1500,1300.6 1410,1297 1319.5,1293.7" fill-opacity="0.49"/><polygon points="1319.5,1293.7 1410,1297 1500,1300.6 1600,1305.3 1700,1307.8 1800,1309.8 1900,1311.7 2000,1312.5 2104.6,1313.8 2104.6,1320.7 2000,1318.5 1900,1317.4 1800,1314.8 1700,1312.7 1600,1311 1500,1305.2 1410,1300.5 1319.5,1296.4" fill-opacity="0.46"/><polygon points="1319.5,1296.4 1410,1300.5 1500,1305.2 1600,1311 1700,1312.7 1800,1314.8 1900,1317.4 2000,1318.5 2104.6,1320.7 2104.6,1327.5 2000,1324.4 1900,1323 1800,1319.8 1700,1317.5 1600,1316.7 1500,1309.8 1410,1304.1 1319.5,1299" fill-opacity="0.43"/><polygon points="1319.5,1299 1410,1304.1 1500,1309.8 1600,1316.7 1700,1317.5 1800,1319.8 1900,1323 2000,1324.4 2104.6,1327.5 2104.6,1329.5 2000,1326.4 1900,1325 1800,1321.8 1700,1319.5 1600,1318.7 1500,1311.8 1410,1306.1 1319.5,1301" fill-opacity="0.41"/><polygon points="1319.5,1301 1410,1306.1 1500,1311.8 1600,1318.7 1700,1319.5 1800,1321.8 1900,1325 2000,1326.4 2104.6,1329.5 2104.6,1331.5 2000,1328.4 1900,1327 1800,1323.8 1700,1321.5 1600,1320.7 1500,1313.8 1410,1308.1 1319.5,1303" fill-opacity="0.38"/><polygon points="1319.5,1303 1410,1308.1 1500,1313.8 1600,1320.7 1700,1321.5 1800,1323.8 1900,1327 2000,1328.4 2104.6,1331.5 2104.6,1333.5 2000,1330.4 1900,1329 1800,1325.8 1700,1323.5 1600,1322.7 1500,1315.8 1410,1310.1 1319.5,1305" fill-opacity="0.35"/><polygon points="1319.5,1305 1410,1310.1 1500,1315.8 1600,1322.7 1700,1323.5 1800,1325.8 1900,1329 2000,1330.4 2104.6,1333.5 2104.6,1335.5 2000,1332.4 1900,1331 1800,1327.8 1700,1325.5 1600,1324.7 1500,1317.8 1410,1312.1 1319.5,1307" fill-opacity="0.32"/><polygon points="1319.5,1307 1410,1312.1 1500,1317.8 1600,1324.7 1700,1325.5 1800,1327.8 1900,1331 2000,1332.4 2104.6,1335.5 2104.6,1337.5 2000,1334.4 1900,1333 1800,1329.8 1700,1327.5 1600,1326.7 1500,1319.8 1410,1314.1 1319.5,1309" fill-opacity="0.29"/><polygon points="1319.5,1309 1410,1314.1 1500,1319.8 1600,1326.7 1700,1327.5 1800,1329.8 1900,1333 2000,1334.4 2104.6,1337.5 2104.6,1339.5 2000,1336.4 1900,1335 1800,1331.8 1700,1329.5 1600,1328.7 1500,1321.8 1410,1316.1 1319.5,1311" fill-opacity="0.26"/><polygon points="1319.5,1311 1410,1316.1 1500,1321.8 1600,1328.7 1700,1329.5 1800,1331.8 1900,1335 2000,1336.4 2104.6,1339.5 2104.6,1341.2 2000,1338 1900,1336.7 1800,1333.5 1700,1331.2 1600,1330.3 1500,1323.5 1410,1317.8 1319.5,1312.7" fill-opacity="0.23"/><polygon points="1319.5,1312.7 1410,1317.8 1500,1323.5 1600,1330.3 1700,1331.2 1800,1333.5 1900,1336.7 2000,1338 2104.6,1341.2 2104.6,1342.8 2000,1339.7 1900,1338.4 1800,1335.1 1700,1332.9 1600,1332 1500,1325.1 1410,1319.4 1319.5,1314.4" fill-opacity="0.19"/><polygon points="1319.5,1314.4 1410,1319.4 1500,1325.1 1600,1332 1700,1332.9 1800,1335.1 1900,1338.4 2000,1339.7 2104.6,1342.8 2104.6,1344.5 2000,1341.4 1900,1340 1800,1336.8 1700,1334.5 1600,1333.7 1500,1326.8 1410,1321.1 1319.5,1316" fill-opacity="0.15"/><polygon points="1319.5,1316 1410,1321.1 1500,1326.8 1600,1333.7 1700,1334.5 1800,1336.8 1900,1340 2000,1341.4 2104.6,1344.5 2104.6,1346.2 2000,1343 1900,1341.7 1800,1338.5 1700,1336.2 1600,1335.3 1500,1328.5 1410,1322.8 1319.5,1317.7" fill-opacity="0.10"/><polygon points="1319.5,1317.7 1410,1322.8 1500,1328.5 1600,1335.3 1700,1336.2 1800,1338.5 1900,1341.7 2000,1343 2104.6,1346.2 2104.6,1347.8 2000,1344.7 1900,1343.4 1800,1340.1 1700,1337.9 1600,1337 1500,1330.1 1410,1324.4 1319.5,1319.4" fill-opacity="0.06"/><polygon points="1319.5,1319.4 1410,1324.4 1500,1330.1 1600,1337 1700,1337.9 1800,1340.1 1900,1343.4 2000,1344.7 2104.6,1347.8 2104.6,1349.5 2000,1346.4 1900,1345 1800,1341.8 1700,1339.5 1600,1338.7 1500,1331.8 1410,1326.1 1319.5,1321" fill-opacity="0.02"/>
</g>
<g fill="#000" filter="url(#dith2s)">
<polygon points="1319.5,960.7 1410,959.7 1500,958.7 1600,957.6 1700,956.5 1800,955.4 1900,954.3 2000,953.2 2104.6,952.1 2104.6,962.6 2000,963.7 1900,964.8 1800,965.9 1700,967 1600,968.1 1500,969.2 1410,970.2 1319.5,971.2" fill-opacity="0.649"/><polygon points="1319.5,971.2 1410,970.2 1500,969.2 1600,968.1 1700,967 1800,965.9 1900,964.8 2000,963.7 2104.6,962.6 2104.6,974.6 2000,975.7 1900,976.8 1800,977.9 1700,979 1600,980.1 1500,981.2 1410,982.2 1319.5,983.2" fill-opacity="0.620"/><polygon points="1319.5,983.2 1410,982.2 1500,981.2 1600,980.1 1700,979 1800,977.9 1900,976.8 2000,975.7 2104.6,974.6 2104.6,986.6 2000,987.7 1900,988.8 1800,989.9 1700,991 1600,992.1 1500,993.2 1410,994.2 1319.5,995.2" fill-opacity="0.591"/><polygon points="1319.5,995.2 1410,994.2 1410,1011.7 1319.5,1012.7" fill-opacity="0.565"/><polygon points="1410,994.2 1500,993.2 1500,1010.7 1410,1011.7" fill-opacity="0.564"/><polygon points="1500,993.2 1600,992.1 1600,1009.6 1500,1010.7" fill-opacity="0.563"/><polygon points="1600,992.1 1700,991 1700,1008.5 1600,1009.6" fill-opacity="0.561"/><polygon points="1700,991 1800,989.9 1800,1007.4 1700,1008.5" fill-opacity="0.560"/><polygon points="1800,989.9 1900,988.8 1900,1006.3 1800,1007.4" fill-opacity="0.558"/><polygon points="1900,988.8 2000,987.7 2000,1005.2 1900,1006.3" fill-opacity="0.556"/><polygon points="2000,987.7 2104.6,986.6 2104.6,1004.1 2000,1005.2" fill-opacity="0.554"/><polygon points="1319.5,1012.7 1410,1011.7 1410,1029.2 1319.5,1030.2" fill-opacity="0.541"/><polygon points="1410,1011.7 1500,1010.7 1500,1028.2 1410,1029.2" fill-opacity="0.538"/><polygon points="1500,1010.7 1600,1009.6 1600,1027.1 1500,1028.2" fill-opacity="0.535"/><polygon points="1600,1009.6 1700,1008.5 1700,1026 1600,1027.1" fill-opacity="0.531"/><polygon points="1700,1008.5 1800,1007.4 1800,1024.9 1700,1026" fill-opacity="0.527"/><polygon points="1800,1007.4 1900,1006.3 1900,1023.8 1800,1024.9" fill-opacity="0.522"/><polygon points="1900,1006.3 2000,1005.2 2000,1022.7 1900,1023.8" fill-opacity="0.517"/><polygon points="2000,1005.2 2104.6,1004.1 2104.6,1021.6 2000,1022.7" fill-opacity="0.512"/><polygon points="1319.5,1030.2 1410,1029.2 1410,1042.5 1319.5,1043.5" fill-opacity="0.526"/><polygon points="1410,1029.2 1500,1028.2 1500,1041.6 1410,1042.5" fill-opacity="0.522"/><polygon points="1500,1028.2 1600,1027.1 1600,1040.5 1500,1041.6" fill-opacity="0.518"/><polygon points="1600,1027.1 1700,1026 1700,1039.4 1600,1040.5" fill-opacity="0.513"/><polygon points="1700,1026 1800,1024.9 1800,1038.3 1700,1039.4" fill-opacity="0.508"/><polygon points="1800,1024.9 1900,1023.8 1900,1037.2 1800,1038.3" fill-opacity="0.502"/><polygon points="1900,1023.8 2000,1022.7 2000,1036.1 1900,1037.2" fill-opacity="0.496"/><polygon points="2000,1022.7 2104.6,1021.6 2104.6,1034.9 2000,1036.1" fill-opacity="0.489"/><polygon points="1319.5,1043.5 1410,1042.5 1410,1055.9 1319.5,1056.9" fill-opacity="0.517"/><polygon points="1410,1042.5 1500,1041.6 1500,1054.9 1410,1055.9" fill-opacity="0.513"/><polygon points="1500,1041.6 1600,1040.5 1600,1053.8 1500,1054.9" fill-opacity="0.509"/><polygon points="1600,1040.5 1700,1039.4 1700,1052.7 1600,1053.8" fill-opacity="0.505"/><polygon points="1700,1039.4 1800,1038.3 1800,1051.6 1700,1052.7" fill-opacity="0.500"/><polygon points="1800,1038.3 1900,1037.2 1900,1050.5 1800,1051.6" fill-opacity="0.493"/><polygon points="1900,1037.2 2000,1036.1 2000,1049.4 1900,1050.5" fill-opacity="0.487"/><polygon points="2000,1036.1 2104.6,1034.9 2104.6,1048.3 2000,1049.4" fill-opacity="0.481"/><polygon points="1319.5,1056.9 1410,1055.9 1410,1069.2 1319.5,1070.2" fill-opacity="0.508"/><polygon points="1410,1055.9 1500,1054.9 1500,1068.2 1410,1069.2" fill-opacity="0.504"/><polygon points="1500,1054.9 1600,1053.8 1600,1067.1 1500,1068.2" fill-opacity="0.500"/><polygon points="1600,1053.8 1700,1052.7 1700,1066 1600,1067.1" fill-opacity="0.496"/><polygon points="1700,1052.7 1800,1051.6 1800,1064.9 1700,1066" fill-opacity="0.491"/><polygon points="1800,1051.6 1900,1050.5 1900,1063.8 1800,1064.9" fill-opacity="0.485"/><polygon points="1900,1050.5 2000,1049.4 2000,1062.7 1900,1063.8" fill-opacity="0.479"/><polygon points="2000,1049.4 2104.6,1048.3 2104.6,1061.6 2000,1062.7" fill-opacity="0.473"/><polygon points="1319.5,1070.2 1410,1069.2 1410,1147.8 1319.5,1145" fill-opacity="0.504"/><polygon points="1410,1069.2 1500,1068.2 1500,1151 1410,1147.8" fill-opacity="0.500"/><polygon points="1500,1068.2 1600,1067.1 1600,1155.8 1500,1151" fill-opacity="0.496"/><polygon points="1600,1067.1 1700,1066 1700,1161 1600,1155.8" fill-opacity="0.492"/><polygon points="1700,1066 1800,1064.9 1800,1166.2 1700,1161" fill-opacity="0.487"/><polygon points="1800,1064.9 1900,1063.8 1900,1171 1800,1166.2" fill-opacity="0.481"/><polygon points="1900,1063.8 2000,1062.7 2000,1174.6 1900,1171" fill-opacity="0.475"/><polygon points="2000,1062.7 2104.6,1061.6 2104.6,1178 2000,1174.6" fill-opacity="0.469"/><polygon points="1319.5,1145 1410,1147.8 1410,1161.8 1319.5,1159" fill-opacity="0.515"/><polygon points="1410,1147.8 1500,1151 1500,1165 1410,1161.8" fill-opacity="0.511"/><polygon points="1500,1151 1600,1155.8 1600,1169.8 1500,1165" fill-opacity="0.507"/><polygon points="1600,1155.8 1700,1161 1700,1175 1600,1169.8" fill-opacity="0.503"/><polygon points="1700,1161 1800,1166.2 1800,1180.2 1700,1175" fill-opacity="0.498"/><polygon points="1800,1166.2 1900,1171 1900,1185 1800,1180.2" fill-opacity="0.492"/><polygon points="1900,1171 2000,1174.6 2000,1188.6 1900,1185" fill-opacity="0.486"/><polygon points="2000,1174.6 2104.6,1178 2104.6,1192 2000,1188.6" fill-opacity="0.480"/><polygon points="1319.5,1159 1410,1161.8 1410,1175.8 1319.5,1173" fill-opacity="0.539"/><polygon points="1410,1161.8 1500,1165 1500,1179 1410,1175.8" fill-opacity="0.535"/><polygon points="1500,1165 1600,1169.8 1600,1183.8 1500,1179" fill-opacity="0.530"/><polygon points="1600,1169.8 1700,1175 1700,1189 1600,1183.8" fill-opacity="0.526"/><polygon points="1700,1175 1800,1180.2 1800,1194.2 1700,1189" fill-opacity="0.520"/><polygon points="1800,1180.2 1900,1185 1900,1199 1800,1194.2" fill-opacity="0.514"/><polygon points="1900,1185 2000,1188.6 2000,1202.6 1900,1199" fill-opacity="0.508"/><polygon points="2000,1188.6 2104.6,1192 2104.6,1206 2000,1202.6" fill-opacity="0.501"/><polygon points="1319.5,1173 1410,1175.8 1410,1182.5 1319.5,1179.7" fill-opacity="0.561"/><polygon points="1410,1175.8 1500,1179 1500,1185.7 1410,1182.5" fill-opacity="0.557"/><polygon points="1500,1179 1600,1183.8 1600,1190.5 1500,1185.7" fill-opacity="0.553"/><polygon points="1600,1183.8 1700,1189 1700,1195.7 1600,1190.5" fill-opacity="0.549"/><polygon points="1700,1189 1800,1194.2 1800,1200.9 1700,1195.7" fill-opacity="0.544"/><polygon points="1800,1194.2 1900,1199 1900,1205.7 1800,1200.9" fill-opacity="0.538"/><polygon points="1900,1199 2000,1202.6 2000,1209.3 1900,1205.7" fill-opacity="0.532"/><polygon points="2000,1202.6 2104.6,1206 2104.6,1212.7 2000,1209.3" fill-opacity="0.527"/><polygon points="1319.5,1179.7 1410,1182.5 1410,1189.1 1319.5,1186.3" fill-opacity="0.581"/><polygon points="1410,1182.5 1500,1185.7 1500,1192.3 1410,1189.1" fill-opacity="0.579"/><polygon points="1500,1185.7 1600,1190.5 1600,1197.1 1500,1192.3" fill-opacity="0.576"/><polygon points="1600,1190.5 1700,1195.7 1700,1202.3 1600,1197.1" fill-opacity="0.573"/><polygon points="1700,1195.7 1800,1200.9 1800,1207.5 1700,1202.3" fill-opacity="0.570"/><polygon points="1800,1200.9 1900,1205.7 1900,1212.3 1800,1207.5" fill-opacity="0.566"/><polygon points="1900,1205.7 2000,1209.3 2000,1216 1900,1212.3" fill-opacity="0.562"/><polygon points="2000,1209.3 2104.6,1212.7 2104.6,1219.3 2000,1216" fill-opacity="0.558"/><polygon points="1319.5,1186.3 1410,1189.1 1410,1195.8 1319.5,1193" fill-opacity="0.605"/><polygon points="1410,1189.1 1500,1192.3 1500,1199 1410,1195.8" fill-opacity="0.604"/><polygon points="1500,1192.3 1600,1197.1 1600,1203.8 1500,1199" fill-opacity="0.603"/><polygon points="1600,1197.1 1700,1202.3 1700,1209 1600,1203.8" fill-opacity="0.601"/><polygon points="1700,1202.3 1800,1207.5 1800,1214.2 1700,1209" fill-opacity="0.600"/><polygon points="1800,1207.5 1900,1212.3 1900,1219 1800,1214.2" fill-opacity="0.598"/><polygon points="1900,1212.3 2000,1216 2000,1222.6 1900,1219" fill-opacity="0.597"/><polygon points="2000,1216 2104.6,1219.3 2104.6,1226 2000,1222.6" fill-opacity="0.595"/><polygon points="1319.5,1193 1410,1195.8 1500,1199 1600,1203.8 1700,1209 1800,1214.2 1900,1219 2000,1222.6 2104.6,1226 2104.6,1244 2000,1240.6 1900,1237 1800,1232.2 1700,1227 1600,1221.8 1500,1217 1410,1213.8 1319.5,1211" fill-opacity="0.649"/><polygon points="1319.5,1211 1410,1213.8 1500,1217 1600,1221.8 1700,1227 1800,1232.2 1900,1237 2000,1240.6 2104.6,1244 2104.6,1277 2000,1276.6 1900,1276 1800,1274.9 1700,1273 1600,1269.7 1500,1266 1410,1263.4 1319.5,1261" fill-opacity="0.699"/><polygon points="1319.5,1261 1410,1263.4 1500,1266 1600,1269.7 1700,1273 1800,1274.9 1900,1276 2000,1276.6 2104.6,1277 2104.6,1293 2000,1292.6 1900,1292 1800,1290.9 1700,1289 1600,1285.7 1500,1282 1410,1279.4 1319.5,1277" fill-opacity="0.649"/><polygon points="1319.5,1277 1410,1279.4 1500,1282 1600,1285.7 1700,1289 1800,1290.9 1900,1292 2000,1292.6 2104.6,1293 2104.6,1307 2000,1306.6 1900,1306 1800,1304.9 1700,1303 1600,1299.7 1500,1296 1410,1293.4 1319.5,1291" fill-opacity="0.583"/>
</g>
<g fill="#000" filter="url(#dith2)">
<polygon points="1319.5,953.8 1410,952.8 1500,951.8 1600,950.7 1700,949.6 1800,948.5 1900,947.4 2000,946.3 2104.6,945.2 2104.6,947 2000,948.1 1900,949.2 1800,950.3 1700,951.4 1600,952.5 1500,953.6 1410,954.6 1319.5,955.6" fill-opacity="0.503"/><polygon points="1319.5,955.6 1410,954.6 1500,953.6 1600,952.5 1700,951.4 1800,950.3 1900,949.2 2000,948.1 2104.6,947 2104.6,949.2 2000,950.3 1900,951.4 1800,952.5 1700,953.6 1600,954.7 1500,955.8 1410,956.8 1319.5,957.8" fill-opacity="0.612"/><polygon points="1319.5,957.8 1410,956.8 1500,955.8 1600,954.7 1700,953.6 1800,952.5 1900,951.4 2000,950.3 2104.6,949.2 2104.6,952.1 2000,953.2 1900,954.3 1800,955.4 1700,956.5 1600,957.6 1500,958.7 1410,959.7 1319.5,960.7" fill-opacity="0.725"/><polygon points="1319.5,1291 1410,1293.4 1500,1296 1600,1299.7 1700,1303 1800,1304.9 1900,1306 2000,1306.6 2104.6,1307 2104.6,1313.8 2000,1312.5 1900,1311.7 1800,1309.8 1700,1307.8 1600,1305.3 1500,1300.6 1410,1297 1319.5,1293.7" fill-opacity="0.598"/><polygon points="1319.5,1293.7 1410,1297 1500,1300.6 1600,1305.3 1700,1307.8 1800,1309.8 1900,1311.7 2000,1312.5 2104.6,1313.8 2104.6,1320.7 2000,1318.5 1900,1317.4 1800,1314.8 1700,1312.7 1600,1311 1500,1305.2 1410,1300.5 1319.5,1296.4" fill-opacity="0.583"/><polygon points="1319.5,1296.4 1410,1300.5 1500,1305.2 1600,1311 1700,1312.7 1800,1314.8 1900,1317.4 2000,1318.5 2104.6,1320.7 2104.6,1327.5 2000,1324.4 1900,1323 1800,1319.8 1700,1317.5 1600,1316.7 1500,1309.8 1410,1304.1 1319.5,1299" fill-opacity="0.569"/><polygon points="1319.5,1299 1410,1304.1 1500,1309.8 1600,1316.7 1700,1317.5 1800,1319.8 1900,1323 2000,1324.4 2104.6,1327.5 2104.6,1329.5 2000,1326.4 1900,1325 1800,1321.8 1700,1319.5 1600,1318.7 1500,1311.8 1410,1306.1 1319.5,1301" fill-opacity="0.560"/><polygon points="1319.5,1301 1410,1306.1 1500,1311.8 1600,1318.7 1700,1319.5 1800,1321.8 1900,1325 2000,1326.4 2104.6,1329.5 2104.6,1331.5 2000,1328.4 1900,1327 1800,1323.8 1700,1321.5 1600,1320.7 1500,1313.8 1410,1308.1 1319.5,1303" fill-opacity="0.555"/><polygon points="1319.5,1303 1410,1308.1 1500,1313.8 1600,1320.7 1700,1321.5 1800,1323.8 1900,1327 2000,1328.4 2104.6,1331.5 2104.6,1333.5 2000,1330.4 1900,1329 1800,1325.8 1700,1323.5 1600,1322.7 1500,1315.8 1410,1310.1 1319.5,1305" fill-opacity="0.551"/><polygon points="1319.5,1305 1410,1310.1 1500,1315.8 1600,1322.7 1700,1323.5 1800,1325.8 1900,1329 2000,1330.4 2104.6,1333.5 2104.6,1335.5 2000,1332.4 1900,1331 1800,1327.8 1700,1325.5 1600,1324.7 1500,1317.8 1410,1312.1 1319.5,1307" fill-opacity="0.547"/><polygon points="1319.5,1307 1410,1312.1 1500,1317.8 1600,1324.7 1700,1325.5 1800,1327.8 1900,1331 2000,1332.4 2104.6,1335.5 2104.6,1337.5 2000,1334.4 1900,1333 1800,1329.8 1700,1327.5 1600,1326.7 1500,1319.8 1410,1314.1 1319.5,1309" fill-opacity="0.543"/><polygon points="1319.5,1309 1410,1314.1 1500,1319.8 1600,1326.7 1700,1327.5 1800,1329.8 1900,1333 2000,1334.4 2104.6,1337.5 2104.6,1339.5 2000,1336.4 1900,1335 1800,1331.8 1700,1329.5 1600,1328.7 1500,1321.8 1410,1316.1 1319.5,1311" fill-opacity="0.540"/><polygon points="1319.5,1311 1410,1316.1 1500,1321.8 1600,1328.7 1700,1329.5 1800,1331.8 1900,1335 2000,1336.4 2104.6,1339.5 2104.6,1341.2 2000,1338 1900,1336.7 1800,1333.5 1700,1331.2 1600,1330.3 1500,1323.5 1410,1317.8 1319.5,1312.7" fill-opacity="0.535"/><polygon points="1319.5,1312.7 1410,1317.8 1500,1323.5 1600,1330.3 1700,1331.2 1800,1333.5 1900,1336.7 2000,1338 2104.6,1341.2 2104.6,1342.8 2000,1339.7 1900,1338.4 1800,1335.1 1700,1332.9 1600,1332 1500,1325.1 1410,1319.4 1319.5,1314.4" fill-opacity="0.529"/><polygon points="1319.5,1314.4 1410,1319.4 1500,1325.1 1600,1332 1700,1332.9 1800,1335.1 1900,1338.4 2000,1339.7 2104.6,1342.8 2104.6,1344.5 2000,1341.4 1900,1340 1800,1336.8 1700,1334.5 1600,1333.7 1500,1326.8 1410,1321.1 1319.5,1316" fill-opacity="0.524"/><polygon points="1319.5,1316 1410,1321.1 1500,1326.8 1600,1333.7 1700,1334.5 1800,1336.8 1900,1340 2000,1341.4 2104.6,1344.5 2104.6,1346.2 2000,1343 1900,1341.7 1800,1338.5 1700,1336.2 1600,1335.3 1500,1328.5 1410,1322.8 1319.5,1317.7" fill-opacity="0.520"/><polygon points="1319.5,1317.7 1410,1322.8 1500,1328.5 1600,1335.3 1700,1336.2 1800,1338.5 1900,1341.7 2000,1343 2104.6,1346.2 2104.6,1347.8 2000,1344.7 1900,1343.4 1800,1340.1 1700,1337.9 1600,1337 1500,1330.1 1410,1324.4 1319.5,1319.4" fill-opacity="0.515"/><polygon points="1319.5,1319.4 1410,1324.4 1500,1330.1 1600,1337 1700,1337.9 1800,1340.1 1900,1343.4 2000,1344.7 2104.6,1347.8 2104.6,1349.5 2000,1346.4 1900,1345 1800,1341.8 1700,1339.5 1600,1338.7 1500,1331.8 1410,1326.1 1319.5,1321" fill-opacity="0.511"/><polygon points="1319.5,1321 1410,1326.1 1500,1331.8 1600,1338.7 1700,1339.5 1800,1341.8 1900,1345 2000,1346.4 2104.6,1349.5 2104.6,1350.9 2000,1347.9 1900,1346.6 1800,1343.5 1700,1341.4 1600,1340.6 1500,1334.1 1410,1328.6 1319.5,1323.8" fill-opacity="0.502"/><polygon points="1319.5,1323.8 1410,1328.6 1500,1334.1 1600,1340.6 1700,1341.4 1800,1343.5 1900,1346.6 2000,1347.9 2104.6,1350.9 2104.6,1352.2 2000,1349.4 1900,1348.2 1800,1345.3 1700,1343.3 1600,1342.5 1500,1336.3 1410,1331.2 1319.5,1326.6" fill-opacity="0.487"/><polygon points="1319.5,1326.6 1410,1331.2 1500,1336.3 1600,1342.5 1700,1343.3 1800,1345.3 1900,1348.2 2000,1349.4 2104.6,1352.2 2104.6,1353.6 2000,1351 1900,1349.8 1800,1347.1 1700,1345.2 1600,1344.4 1500,1338.6 1410,1333.7 1319.5,1329.4" fill-opacity="0.471"/><polygon points="1319.5,1329.4 1410,1333.7 1500,1338.6 1600,1344.4 1700,1345.2 1800,1347.1 1900,1349.8 2000,1351 2104.6,1353.6 2104.6,1355 2000,1352.5 1900,1351.4 1800,1348.8 1700,1347 1600,1346.3 1500,1340.8 1410,1336.3 1319.5,1332.2" fill-opacity="0.455"/><polygon points="1319.5,1332.2 1410,1336.3 1500,1340.8 1600,1346.3 1700,1347 1800,1348.8 1900,1351.4 2000,1352.5 2104.6,1355 2104.6,1356.5 2000,1354.1 1900,1353.1 1800,1350.7 1700,1349 1600,1348.4 1500,1343.3 1410,1339 1319.5,1335.2" fill-opacity="0.437"/><polygon points="1319.5,1335.2 1410,1339 1500,1343.3 1600,1348.4 1700,1349 1800,1350.7 1900,1353.1 2000,1354.1 2104.6,1356.5 2104.6,1357.9 2000,1355.8 1900,1354.8 1800,1352.6 1700,1351 1600,1350.4 1500,1345.7 1410,1341.7 1319.5,1338.2" fill-opacity="0.417"/>
</g>
<g fill="#000" filter="url(#dith2t)">
<polygon points="1319.5,952 1410,951 1500,950 1600,948.9 1700,947.8 1800,946.7 1900,945.6 2000,944.5 2104.6,943.4 2104.6,945.2 2000,946.3 1900,947.4 1800,948.5 1700,949.6 1600,950.7 1500,951.8 1410,952.8 1319.5,953.8" fill-opacity="0.414"/><polygon points="1319.5,1338.2 1410,1341.7 1500,1345.7 1600,1350.4 1700,1351 1800,1352.6 1900,1354.8 2000,1355.8 2104.6,1357.9 2104.6,1359.4 2000,1357.4 1900,1356.5 1800,1354.5 1700,1353 1600,1352.5 1500,1348.1 1410,1344.4 1319.5,1341.2" fill-opacity="0.422"/><polygon points="1319.5,1341.2 1410,1344.4 1500,1348.1 1600,1352.5 1700,1353 1800,1354.5 1900,1356.5 2000,1357.4 2104.6,1359.4 2104.6,1361.6 2000,1359.9 1900,1359.1 1800,1357.3 1700,1356 1600,1355.5 1500,1351.7 1410,1348.5 1319.5,1345.7" fill-opacity="0.394"/><polygon points="1319.5,1345.7 1410,1348.5 1500,1351.7 1600,1355.5 1700,1356 1800,1357.3 1900,1359.1 2000,1359.9 2104.6,1361.6 2104.6,1363.8 2000,1362.3 1900,1361.7 1800,1360.1 1700,1359 1600,1358.6 1500,1355.3 1410,1352.6 1319.5,1350.1" fill-opacity="0.362"/><polygon points="1319.5,1350.1 1410,1352.6 1500,1355.3 1600,1358.6 1700,1359 1800,1360.1 1900,1361.7 2000,1362.3 2104.6,1363.8 2104.6,1368.7 2000,1367.8 1900,1367.4 1800,1366.4 1700,1365.8 1600,1365.5 1500,1363.4 1410,1361.7 1319.5,1360.2" fill-opacity="0.318"/><polygon points="1319.5,1360.2 1410,1361.7 1500,1363.4 1600,1365.5 1700,1365.8 1800,1366.4 1900,1367.4 2000,1367.8 2104.6,1368.7 2104.6,1373.7 2000,1373.3 1900,1373.2 1800,1372.8 1700,1372.5 1600,1372.4 1500,1371.6 1410,1370.9 1319.5,1370.3" fill-opacity="0.264"/><polygon points="1319.5,1370.3 1410,1370.9 1500,1371.6 1600,1372.4 1700,1372.5 1800,1372.8 1900,1373.2 2000,1373.3 2104.6,1373.7 2104.6,1377 2000,1377 1900,1377 1800,1377 1700,1377 1600,1377 1500,1377 1410,1377 1319.5,1377" fill-opacity="0.197"/>
</g>
</g>
<g fill="none" stroke-width="2.75" opacity="0.4"><rect x="1321" y="856" width="782.2" height="572.4" stroke="#5f5f5f"/><rect x="1323.6" y="858.8" width="776.8" height="567" stroke="#8e8e8e"/></g>
<g filter="url(#tsoft)">
<text transform="translate(134.6 67.6) scale(0.9 1)" font-size="67.5" text-anchor="end" letter-spacing="1.3" dx="1.3">8</text>
<text transform="translate(134.6 878.6) scale(0.9 1)" font-size="67.5" text-anchor="end" letter-spacing="1.3" dx="1.3">8</text>
<text transform="translate(134.6 182.4) scale(0.9 1)" font-size="67.5" text-anchor="end" letter-spacing="1.3" dx="1.3">6</text>
<text transform="translate(134.6 993.4) scale(0.9 1)" font-size="67.5" text-anchor="end" letter-spacing="1.3" dx="1.3">6</text>
<text transform="translate(134.6 297.2) scale(0.9 1)" font-size="67.5" text-anchor="end" letter-spacing="1.3" dx="1.3">4</text>
<text transform="translate(134.6 1108.2) scale(0.9 1)" font-size="67.5" text-anchor="end" letter-spacing="1.3" dx="1.3">4</text>
<text transform="translate(134.6 412.0) scale(0.9 1)" font-size="67.5" text-anchor="end" letter-spacing="1.3" dx="1.3">2</text>
<text transform="translate(134.6 1223.0) scale(0.9 1)" font-size="67.5" text-anchor="end" letter-spacing="1.3" dx="1.3">2</text>
<text transform="translate(134.6 526.8) scale(0.9 1)" font-size="67.5" text-anchor="end" letter-spacing="1.3" dx="1.3">0</text>
<text transform="translate(134.6 1337.8) scale(0.9 1)" font-size="67.5" text-anchor="end" letter-spacing="1.3" dx="1.3">0</text>
<text transform="translate(134.6 641.6) scale(0.9 1)" font-size="67.5" text-anchor="end" letter-spacing="1.3" dx="1.3">-2</text>
<text transform="translate(134.6 1452.6) scale(0.9 1)" font-size="67.5" text-anchor="end" letter-spacing="1.3" dx="1.3">-2</text>
<text transform="translate(154.6 697.4) scale(0.9 1)" font-size="67.5" text-anchor="middle" letter-spacing="1.3" dx="0.65">0.6</text>
<text transform="translate(1322.6 697.4) scale(0.9 1)" font-size="67.5" text-anchor="middle" letter-spacing="1.3" dx="0.65">0.6</text>
<text transform="translate(357.2 697.4) scale(0.9 1)" font-size="67.5" text-anchor="middle" letter-spacing="1.3" dx="0.65">0.65</text>
<text transform="translate(1517.3 697.4) scale(0.9 1)" font-size="67.5" text-anchor="middle" letter-spacing="1.3" dx="0.65">0.65</text>
<text transform="translate(559.8 697.4) scale(0.9 1)" font-size="67.5" text-anchor="middle" letter-spacing="1.3" dx="0.65">0.7</text>
<text transform="translate(1712.1 697.4) scale(0.9 1)" font-size="67.5" text-anchor="middle" letter-spacing="1.3" dx="0.65">0.7</text>
<text transform="translate(762.4 697.4) scale(0.9 1)" font-size="67.5" text-anchor="middle" letter-spacing="1.3" dx="0.65">0.75</text>
<text transform="translate(1906.8 697.4) scale(0.9 1)" font-size="67.5" text-anchor="middle" letter-spacing="1.3" dx="0.65">0.75</text>
<text transform="translate(965 697.4) scale(0.9 1)" font-size="67.5" text-anchor="middle" letter-spacing="1.3" dx="0.65">0.8</text>
<text transform="translate(2101.6 697.4) scale(0.9 1)" font-size="67.5" text-anchor="middle" letter-spacing="1.3" dx="0.65">0.8</text>
<text transform="translate(155.2 1508.6) scale(0.9 1)" font-size="67.5" text-anchor="middle" letter-spacing="1.3" dx="0.65">0.16</text>
<text transform="translate(1323.4 1508.6) scale(0.9 1)" font-size="67.5" text-anchor="middle" letter-spacing="1.3" dx="0.65">0.16</text>
<text transform="translate(317.3 1508.6) scale(0.9 1)" font-size="67.5" text-anchor="middle" letter-spacing="1.3" dx="0.65">0.18</text>
<text transform="translate(1479.2 1508.6) scale(0.9 1)" font-size="67.5" text-anchor="middle" letter-spacing="1.3" dx="0.65">0.18</text>
<text transform="translate(479.4 1508.6) scale(0.9 1)" font-size="67.5" text-anchor="middle" letter-spacing="1.3" dx="0.65">0.2</text>
<text transform="translate(1635 1508.6) scale(0.9 1)" font-size="67.5" text-anchor="middle" letter-spacing="1.3" dx="0.65">0.2</text>
<text transform="translate(641.5 1508.6) scale(0.9 1)" font-size="67.5" text-anchor="middle" letter-spacing="1.3" dx="0.65">0.22</text>
<text transform="translate(1790.8 1508.6) scale(0.9 1)" font-size="67.5" text-anchor="middle" letter-spacing="1.3" dx="0.65">0.22</text>
<text transform="translate(803.6 1508.6) scale(0.9 1)" font-size="67.5" text-anchor="middle" letter-spacing="1.3" dx="0.65">0.24</text>
<text transform="translate(1946.6 1508.6) scale(0.9 1)" font-size="67.5" text-anchor="middle" letter-spacing="1.3" dx="0.65">0.24</text>
<text transform="translate(965.7 1508.6) scale(0.9 1)" font-size="67.5" text-anchor="middle" letter-spacing="1.3" dx="0.65">0.26</text>
<text transform="translate(2102.4 1508.6) scale(0.9 1)" font-size="67.5" text-anchor="middle" letter-spacing="1.3" dx="0.65">0.26</text>
<text transform="translate(1302.8 67.6) scale(0.9 1)" font-size="67.5" text-anchor="end" letter-spacing="1.3" dx="1.3">5</text>
<text transform="translate(1302.8 354.4) scale(0.9 1)" font-size="67.5" text-anchor="end" letter-spacing="1.3" dx="1.3">0</text>
<text transform="translate(1302.8 642.4) scale(0.9 1)" font-size="67.5" text-anchor="end" letter-spacing="1.3" dx="1.3">-5</text>
<text transform="translate(1302.8 959.8) scale(0.9 1)" font-size="67.5" text-anchor="end" letter-spacing="1.3" dx="1.3">4</text>
<text transform="translate(1302.8 1123.6) scale(0.9 1)" font-size="67.5" text-anchor="end" letter-spacing="1.3" dx="1.3">2</text>
<text transform="translate(1302.8 1289.4) scale(0.9 1)" font-size="67.5" text-anchor="end" letter-spacing="1.3" dx="1.3">0</text>
<text transform="translate(1302.8 1452.8) scale(0.9 1)" font-size="67.5" text-anchor="end" letter-spacing="1.3" dx="1.3">-2</text>
<text transform="translate(60.4 330.6) rotate(-90) scale(0.935 1)" font-size="70" text-anchor="middle" letter-spacing="2.6" dx="1.3">Lyapunov exponents</text>
<text transform="translate(60.4 1141.8) rotate(-90) scale(0.935 1)" font-size="70" text-anchor="middle" letter-spacing="2.6" dx="1.3">Lyapunov exponents</text>
<text transform="translate(560.6 777.2) scale(0.95 1)" font-size="70" text-anchor="middle" font-style="italic">a</text>
<text transform="translate(1712.6 777.2) scale(0.95 1)" font-size="70" text-anchor="middle" font-style="italic">a</text>
<text transform="translate(560.6 1588.4) scale(0.95 1)" font-size="70" text-anchor="middle" font-style="italic">b</text>
<text transform="translate(1712.6 1588.4) scale(0.95 1)" font-size="70" text-anchor="middle" font-style="italic">b</text>
<text transform="translate(1198.4 363.4) rotate(-90)" font-size="70"><tspan font-style="italic">x</tspan><tspan font-size="56" dx="2" dy="33">2</tspan></text>
<text transform="translate(1198.4 1174.6) rotate(-90)" font-size="70"><tspan font-style="italic">x</tspan><tspan font-size="56" dx="2" dy="33">2</tspan></text>
<text transform="translate(25.6 764.4)" font-size="55" text-anchor="start">(a)</text>
<text transform="translate(1159.8 765.0)" font-size="55" text-anchor="start">(b)</text>
<text transform="translate(25.6 1575.6)" font-size="55" text-anchor="start">(c)</text>
<text transform="translate(1159.8 1576.2)" font-size="55" text-anchor="start">(d)</text>
</g>
</g>
</svg>
</body></html>
